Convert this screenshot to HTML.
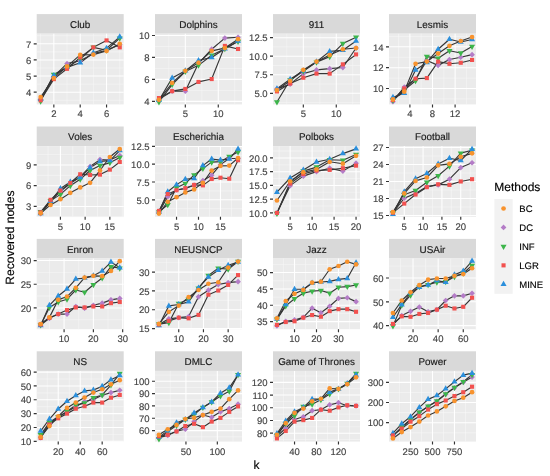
<!DOCTYPE html>
<html lang="en"><head><meta charset="utf-8"><title>Recovered nodes by k</title>
<style>html,body{margin:0;padding:0;background:#fff;}body{width:550px;height:476px;overflow:hidden;font-family:"Liberation Sans",Arial,sans-serif;}svg{display:block;filter:blur(0.35px);}text{text-rendering:geometricPrecision;stroke-width:0.15;}.a{stroke:#444444;stroke-width:0.3}.s{stroke:#1A1A1A}.k{stroke:#000}</style>
</head><body>
<svg width="550" height="476" viewBox="0 0 550 476" font-family="'Liberation Sans', Arial, Helvetica, sans-serif">
<rect width="550" height="476" fill="#ffffff"/>
<g>
<rect x="36.7" y="14.1" width="87" height="19.6" fill="#D9D9D9"/>
<rect x="36.7" y="33.7" width="87" height="70.7" fill="#EBEBEB"/>
<text class="s" x="80.2" y="27.7" font-size="9.9" fill="#1A1A1A" text-anchor="middle">Club</text>
<path d="M36.7 100.27H123.7M36.7 84.14H123.7M36.7 68H123.7M36.7 51.88H123.7M36.7 35.75H123.7M40.65 33.7V104.4M67.02 33.7V104.4M93.38 33.7V104.4M119.75 33.7V104.4" stroke="#F8F8F8" stroke-width="0.55" fill="none"/>
<path d="M36.7 92.2H123.7M36.7 76.07H123.7M36.7 59.94H123.7M36.7 43.81H123.7M53.84 33.7V104.4M80.2 33.7V104.4M106.56 33.7V104.4" stroke="#ffffff" stroke-width="1.05" fill="none"/>
<path d="M33.7 92.2H36.7M33.7 76.07H36.7M33.7 59.94H36.7M33.7 43.81H36.7M53.84 104.4V107.4M80.2 104.4V107.4M106.56 104.4V107.4" stroke="#333333" stroke-width="1.16" fill="none"/>
<g class="a" font-size="9.5" fill="#444444">
<g text-anchor="end">
<text x="31.3" y="95.9">4</text>
<text x="31.3" y="79.77">5</text>
<text x="31.3" y="63.64">6</text>
<text x="31.3" y="47.51">7</text>
</g><g text-anchor="middle">
<text x="53.84" y="117.3">2</text>
<text x="80.2" y="117.3">4</text>
<text x="106.56" y="117.3">6</text>
</g></g>
<g fill="none" stroke="#353535" stroke-width="1.15" stroke-linejoin="round"><polyline points="40.65,97.04 53.84,78.17 67.02,66.39 80.2,54.94 93.38,54.62 106.56,50.91 119.75,43.81"/><polyline points="40.65,99.14 53.84,76.39 67.02,63.65 80.2,60.75 93.38,53.65 106.56,50.26 119.75,44.62"/><polyline points="40.65,101.23 53.84,74.62 67.02,67.36 80.2,59.13 93.38,47.36 106.56,50.26 119.75,38.16"/><polyline points="40.65,100.27 53.84,79.13 67.02,68.81 80.2,57.36 93.38,47.36 106.56,40.42 119.75,47.36"/><polyline points="40.65,99.14 53.84,75.42 67.02,67.36 80.2,62.68 93.38,52.68 106.56,48.17 119.75,36.87"/></g>
<path d="M40.65 96.29L43.5 99.14L40.65 101.99L37.8 99.14Z" fill="#B47CC7"/><path d="M53.84 73.54L56.69 76.39L53.84 79.24L50.99 76.39Z" fill="#B47CC7"/><path d="M67.02 60.8L69.87 63.65L67.02 66.5L64.17 63.65Z" fill="#B47CC7"/><path d="M80.2 57.9L83.05 60.75L80.2 63.6L77.35 60.75Z" fill="#B47CC7"/><path d="M93.38 50.8L96.23 53.65L93.38 56.5L90.53 53.65Z" fill="#B47CC7"/><path d="M106.56 47.41L109.41 50.26L106.56 53.11L103.71 50.26Z" fill="#B47CC7"/><path d="M119.75 41.77L122.6 44.62L119.75 47.47L116.9 44.62Z" fill="#B47CC7"/>
<path d="M40.65 104.73L43.68 99.48L37.62 99.48Z" fill="#3CB54A"/><path d="M53.84 78.12L56.87 72.87L50.81 72.87Z" fill="#3CB54A"/><path d="M67.02 70.86L70.05 65.61L63.99 65.61Z" fill="#3CB54A"/><path d="M80.2 62.63L83.23 57.38L77.17 57.38Z" fill="#3CB54A"/><path d="M93.38 50.86L96.41 45.61L90.35 45.61Z" fill="#3CB54A"/><path d="M106.56 53.76L109.59 48.51L103.53 48.51Z" fill="#3CB54A"/><path d="M119.75 41.66L122.78 36.41L116.72 36.41Z" fill="#3CB54A"/>
<path d="M40.65 95.64L43.68 100.89L37.62 100.89Z" fill="#2B8FDC"/><path d="M53.84 71.92L56.87 77.17L50.81 77.17Z" fill="#2B8FDC"/><path d="M67.02 63.86L70.05 69.11L63.99 69.11Z" fill="#2B8FDC"/><path d="M80.2 59.18L83.23 64.43L77.17 64.43Z" fill="#2B8FDC"/><path d="M93.38 49.18L96.41 54.43L90.35 54.43Z" fill="#2B8FDC"/><path d="M106.56 44.67L109.59 49.92L103.53 49.92Z" fill="#2B8FDC"/><path d="M119.75 33.37L122.78 38.62L116.72 38.62Z" fill="#2B8FDC"/>
<rect x="38.6" y="98.22" width="4.1" height="4.1" fill="#F2514F"/><rect x="51.79" y="77.08" width="4.1" height="4.1" fill="#F2514F"/><rect x="64.97" y="66.76" width="4.1" height="4.1" fill="#F2514F"/><rect x="78.15" y="55.31" width="4.1" height="4.1" fill="#F2514F"/><rect x="91.33" y="45.31" width="4.1" height="4.1" fill="#F2514F"/><rect x="104.51" y="38.37" width="4.1" height="4.1" fill="#F2514F"/><rect x="117.7" y="45.31" width="4.1" height="4.1" fill="#F2514F"/>
<circle cx="40.65" cy="97.04" r="2.35" fill="#F8932E"/><circle cx="53.84" cy="78.17" r="2.35" fill="#F8932E"/><circle cx="67.02" cy="66.39" r="2.35" fill="#F8932E"/><circle cx="80.2" cy="54.94" r="2.35" fill="#F8932E"/><circle cx="93.38" cy="54.62" r="2.35" fill="#F8932E"/><circle cx="106.56" cy="50.91" r="2.35" fill="#F8932E"/><circle cx="119.75" cy="43.81" r="2.35" fill="#F8932E"/>
</g>
<g>
<rect x="155" y="14.1" width="87" height="19.6" fill="#D9D9D9"/>
<rect x="155" y="33.7" width="87" height="70.7" fill="#EBEBEB"/>
<text class="s" x="198.5" y="27.7" font-size="9.9" fill="#1A1A1A" text-anchor="middle">Dolphins</text>
<path d="M155 90.37H242M155 68.41H242M155 46.45H242M168.84 33.7V104.4M201.8 33.7V104.4M234.75 33.7V104.4" stroke="#F8F8F8" stroke-width="0.55" fill="none"/>
<path d="M155 101.35H242M155 79.39H242M155 57.43H242M155 35.47H242M185.32 33.7V104.4M218.27 33.7V104.4" stroke="#ffffff" stroke-width="1.05" fill="none"/>
<path d="M152 101.35H155M152 79.39H155M152 57.43H155M152 35.47H155M185.32 104.4V107.4M218.27 104.4V107.4" stroke="#333333" stroke-width="1.16" fill="none"/>
<g class="a" font-size="9.5" fill="#444444">
<g text-anchor="end">
<text x="149.6" y="105.05">4</text>
<text x="149.6" y="83.09">6</text>
<text x="149.6" y="61.13">8</text>
<text x="149.6" y="39.17">10</text>
</g><g text-anchor="middle">
<text x="185.32" y="117.3">5</text>
<text x="218.27" y="117.3">10</text>
</g></g>
<g fill="none" stroke="#353535" stroke-width="1.15" stroke-linejoin="round"><polyline points="158.95,99.81 172.14,83.01 185.32,70.83 198.5,62.7 211.68,50.84 224.86,48.1 238.05,39.2"/><polyline points="158.95,99.37 172.14,91.14 185.32,91.14 198.5,63.36 211.68,49.19 224.86,38.11 238.05,37.23"/><polyline points="158.95,102.01 172.14,84.55 185.32,71.48 198.5,65.34 211.68,55.23 224.86,48.65 238.05,41.4"/><polyline points="158.95,98.06 172.14,91.14 185.32,88.94 198.5,81.92 211.68,79.06 224.86,45.9 238.05,48.98"/><polyline points="158.95,100.25 172.14,77.96 185.32,70.83 198.5,60.5 211.68,57.43 224.86,48.65 238.05,40.96"/></g>
<path d="M158.95 96.52L161.8 99.37L158.95 102.22L156.1 99.37Z" fill="#B47CC7"/><path d="M172.14 88.29L174.99 91.14L172.14 93.99L169.29 91.14Z" fill="#B47CC7"/><path d="M185.32 88.29L188.17 91.14L185.32 93.99L182.47 91.14Z" fill="#B47CC7"/><path d="M198.5 60.51L201.35 63.36L198.5 66.21L195.65 63.36Z" fill="#B47CC7"/><path d="M211.68 46.34L214.53 49.19L211.68 52.04L208.83 49.19Z" fill="#B47CC7"/><path d="M224.86 35.26L227.71 38.11L224.86 40.96L222.01 38.11Z" fill="#B47CC7"/><path d="M238.05 34.38L240.9 37.23L238.05 40.08L235.2 37.23Z" fill="#B47CC7"/>
<path d="M158.95 105.51L161.98 100.26L155.92 100.26Z" fill="#3CB54A"/><path d="M172.14 88.05L175.17 82.8L169.11 82.8Z" fill="#3CB54A"/><path d="M185.32 74.98L188.35 69.73L182.29 69.73Z" fill="#3CB54A"/><path d="M198.5 68.84L201.53 63.59L195.47 63.59Z" fill="#3CB54A"/><path d="M211.68 58.73L214.71 53.48L208.65 53.48Z" fill="#3CB54A"/><path d="M224.86 52.15L227.89 46.9L221.83 46.9Z" fill="#3CB54A"/><path d="M238.05 44.9L241.08 39.65L235.02 39.65Z" fill="#3CB54A"/>
<path d="M158.95 96.75L161.98 102L155.92 102Z" fill="#2B8FDC"/><path d="M172.14 74.46L175.17 79.71L169.11 79.71Z" fill="#2B8FDC"/><path d="M185.32 67.33L188.35 72.58L182.29 72.58Z" fill="#2B8FDC"/><path d="M198.5 57L201.53 62.25L195.47 62.25Z" fill="#2B8FDC"/><path d="M211.68 53.93L214.71 59.18L208.65 59.18Z" fill="#2B8FDC"/><path d="M224.86 45.15L227.89 50.4L221.83 50.4Z" fill="#2B8FDC"/><path d="M238.05 37.46L241.08 42.71L235.02 42.71Z" fill="#2B8FDC"/>
<rect x="156.9" y="96.01" width="4.1" height="4.1" fill="#F2514F"/><rect x="170.09" y="89.09" width="4.1" height="4.1" fill="#F2514F"/><rect x="183.27" y="86.89" width="4.1" height="4.1" fill="#F2514F"/><rect x="196.45" y="79.87" width="4.1" height="4.1" fill="#F2514F"/><rect x="209.63" y="77.01" width="4.1" height="4.1" fill="#F2514F"/><rect x="222.81" y="43.85" width="4.1" height="4.1" fill="#F2514F"/><rect x="236" y="46.93" width="4.1" height="4.1" fill="#F2514F"/>
<circle cx="158.95" cy="99.81" r="2.35" fill="#F8932E"/><circle cx="172.14" cy="83.01" r="2.35" fill="#F8932E"/><circle cx="185.32" cy="70.83" r="2.35" fill="#F8932E"/><circle cx="198.5" cy="62.7" r="2.35" fill="#F8932E"/><circle cx="211.68" cy="50.84" r="2.35" fill="#F8932E"/><circle cx="224.86" cy="48.1" r="2.35" fill="#F8932E"/><circle cx="238.05" cy="39.2" r="2.35" fill="#F8932E"/>
</g>
<g>
<rect x="273" y="14.1" width="87" height="19.6" fill="#D9D9D9"/>
<rect x="273" y="33.7" width="87" height="70.7" fill="#EBEBEB"/>
<text class="s" x="316.5" y="27.7" font-size="9.9" fill="#1A1A1A" text-anchor="middle">911</text>
<path d="M273 102.58H360M273 84.02H360M273 65.47H360M273 46.92H360M286.84 33.7V104.4M319.8 33.7V104.4M352.75 33.7V104.4" stroke="#F8F8F8" stroke-width="0.55" fill="none"/>
<path d="M273 93.3H360M273 74.75H360M273 56.2H360M273 37.65H360M303.32 33.7V104.4M336.27 33.7V104.4" stroke="#ffffff" stroke-width="1.05" fill="none"/>
<path d="M270 93.3H273M270 74.75H273M270 56.2H273M270 37.65H273M303.32 104.4V107.4M336.27 104.4V107.4" stroke="#333333" stroke-width="1.16" fill="none"/>
<g class="a" font-size="9.5" fill="#444444">
<g text-anchor="end">
<text x="267.6" y="97">5.0</text>
<text x="267.6" y="78.45">7.5</text>
<text x="267.6" y="59.9">10.0</text>
<text x="267.6" y="41.35">12.5</text>
</g><g text-anchor="middle">
<text x="303.32" y="117.3">5</text>
<text x="336.27" y="117.3">10</text>
</g></g>
<g fill="none" stroke="#353535" stroke-width="1.15" stroke-linejoin="round"><polyline points="276.95,90.04 290.14,80.83 303.32,69.93 316.5,61.69 329.68,55.09 342.86,49.23 356.05,48.04"/><polyline points="276.95,88.85 290.14,84.17 303.32,73.64 316.5,69.93 329.68,68.67 342.86,67.55 356.05,48.04"/><polyline points="276.95,102.06 290.14,79.94 303.32,71.19 316.5,62.14 329.68,56.65 342.86,43.59 356.05,37.2"/><polyline points="276.95,91.44 290.14,83.51 303.32,77.72 316.5,73.64 329.68,73.64 342.86,64.36 356.05,54.42"/><polyline points="276.95,88.7 290.14,79.2 303.32,70.82 316.5,61.69 329.68,51.38 342.86,50.26 356.05,40.91"/></g>
<path d="M276.95 86L279.8 88.85L276.95 91.7L274.1 88.85Z" fill="#B47CC7"/><path d="M290.14 81.32L292.99 84.17L290.14 87.02L287.29 84.17Z" fill="#B47CC7"/><path d="M303.32 70.79L306.17 73.64L303.32 76.49L300.47 73.64Z" fill="#B47CC7"/><path d="M316.5 67.08L319.35 69.93L316.5 72.78L313.65 69.93Z" fill="#B47CC7"/><path d="M329.68 65.82L332.53 68.67L329.68 71.52L326.83 68.67Z" fill="#B47CC7"/><path d="M342.86 64.7L345.71 67.55L342.86 70.4L340.01 67.55Z" fill="#B47CC7"/><path d="M356.05 45.19L358.9 48.04L356.05 50.89L353.2 48.04Z" fill="#B47CC7"/>
<path d="M276.95 105.56L279.98 100.31L273.92 100.31Z" fill="#3CB54A"/><path d="M290.14 83.44L293.17 78.19L287.11 78.19Z" fill="#3CB54A"/><path d="M303.32 74.69L306.35 69.44L300.29 69.44Z" fill="#3CB54A"/><path d="M316.5 65.64L319.53 60.39L313.47 60.39Z" fill="#3CB54A"/><path d="M329.68 60.15L332.71 54.9L326.65 54.9Z" fill="#3CB54A"/><path d="M342.86 47.09L345.89 41.84L339.83 41.84Z" fill="#3CB54A"/><path d="M356.05 40.7L359.08 35.45L353.02 35.45Z" fill="#3CB54A"/>
<path d="M276.95 85.2L279.98 90.45L273.92 90.45Z" fill="#2B8FDC"/><path d="M290.14 75.7L293.17 80.95L287.11 80.95Z" fill="#2B8FDC"/><path d="M303.32 67.32L306.35 72.57L300.29 72.57Z" fill="#2B8FDC"/><path d="M316.5 58.19L319.53 63.44L313.47 63.44Z" fill="#2B8FDC"/><path d="M329.68 47.88L332.71 53.13L326.65 53.13Z" fill="#2B8FDC"/><path d="M342.86 46.76L345.89 52.01L339.83 52.01Z" fill="#2B8FDC"/><path d="M356.05 37.41L359.08 42.66L353.02 42.66Z" fill="#2B8FDC"/>
<rect x="274.9" y="89.39" width="4.1" height="4.1" fill="#F2514F"/><rect x="288.09" y="81.46" width="4.1" height="4.1" fill="#F2514F"/><rect x="301.27" y="75.67" width="4.1" height="4.1" fill="#F2514F"/><rect x="314.45" y="71.59" width="4.1" height="4.1" fill="#F2514F"/><rect x="327.63" y="71.59" width="4.1" height="4.1" fill="#F2514F"/><rect x="340.81" y="62.31" width="4.1" height="4.1" fill="#F2514F"/><rect x="354" y="52.37" width="4.1" height="4.1" fill="#F2514F"/>
<circle cx="276.95" cy="90.04" r="2.35" fill="#F8932E"/><circle cx="290.14" cy="80.83" r="2.35" fill="#F8932E"/><circle cx="303.32" cy="69.93" r="2.35" fill="#F8932E"/><circle cx="316.5" cy="61.69" r="2.35" fill="#F8932E"/><circle cx="329.68" cy="55.09" r="2.35" fill="#F8932E"/><circle cx="342.86" cy="49.23" r="2.35" fill="#F8932E"/><circle cx="356.05" cy="48.04" r="2.35" fill="#F8932E"/>
</g>
<g>
<rect x="389" y="14.1" width="87" height="19.6" fill="#D9D9D9"/>
<rect x="389" y="33.7" width="87" height="70.7" fill="#EBEBEB"/>
<text class="s" x="432.5" y="27.7" font-size="9.9" fill="#1A1A1A" text-anchor="middle">Lesmis</text>
<path d="M389 98.92H476M389 78.08H476M389 57.24H476M389 36.4H476M398.6 33.7V104.4M421.2 33.7V104.4M443.8 33.7V104.4M466.4 33.7V104.4" stroke="#F8F8F8" stroke-width="0.55" fill="none"/>
<path d="M389 88.5H476M389 67.66H476M389 46.82H476M409.9 33.7V104.4M432.5 33.7V104.4M455.1 33.7V104.4" stroke="#ffffff" stroke-width="1.05" fill="none"/>
<path d="M386 88.5H389M386 67.66H389M386 46.82H389M409.9 104.4V107.4M432.5 104.4V107.4M455.1 104.4V107.4" stroke="#333333" stroke-width="1.16" fill="none"/>
<g class="a" font-size="9.5" fill="#444444">
<g text-anchor="end">
<text x="383.6" y="92.2">10</text>
<text x="383.6" y="71.36">12</text>
<text x="383.6" y="50.52">14</text>
</g><g text-anchor="middle">
<text x="409.9" y="117.3">4</text>
<text x="432.5" y="117.3">8</text>
<text x="455.1" y="117.3">12</text>
</g></g>
<g fill="none" stroke="#353535" stroke-width="1.15" stroke-linejoin="round"><polyline points="392.95,99.44 404.25,91.63 415.55,63.8 426.85,61.62 438.15,53.59 449.45,45.78 460.75,40.98 472.05,37.03"/><polyline points="392.95,101.63 404.25,87.15 415.55,79.12 426.85,60.57 438.15,65.37 449.45,59.53 460.75,57.24 472.05,54.63"/><polyline points="392.95,100.27 404.25,90.06 415.55,80.69 426.85,56.61 438.15,58.28 449.45,50.78 460.75,52.97 472.05,46.4"/><polyline points="392.95,99.96 404.25,88.5 415.55,78.71 426.85,78.08 438.15,61.62 449.45,63.8 460.75,62.76 472.05,59.95"/><polyline points="392.95,97.25 404.25,93.29 415.55,69.95 426.85,62.45 438.15,49.22 449.45,39.21 460.75,42.03 472.05,39.53"/></g>
<path d="M392.95 98.78L395.8 101.63L392.95 104.48L390.1 101.63Z" fill="#B47CC7"/><path d="M404.25 84.3L407.1 87.15L404.25 90L401.4 87.15Z" fill="#B47CC7"/><path d="M415.55 76.27L418.4 79.12L415.55 81.97L412.7 79.12Z" fill="#B47CC7"/><path d="M426.85 57.72L429.7 60.57L426.85 63.42L424 60.57Z" fill="#B47CC7"/><path d="M438.15 62.52L441 65.37L438.15 68.22L435.3 65.37Z" fill="#B47CC7"/><path d="M449.45 56.68L452.3 59.53L449.45 62.38L446.6 59.53Z" fill="#B47CC7"/><path d="M460.75 54.39L463.6 57.24L460.75 60.09L457.9 57.24Z" fill="#B47CC7"/><path d="M472.05 51.78L474.9 54.63L472.05 57.48L469.2 54.63Z" fill="#B47CC7"/>
<path d="M392.95 103.77L395.98 98.52L389.92 98.52Z" fill="#3CB54A"/><path d="M404.25 93.56L407.28 88.31L401.22 88.31Z" fill="#3CB54A"/><path d="M415.55 84.19L418.58 78.94L412.52 78.94Z" fill="#3CB54A"/><path d="M426.85 60.11L429.88 54.86L423.82 54.86Z" fill="#3CB54A"/><path d="M438.15 61.78L441.18 56.53L435.12 56.53Z" fill="#3CB54A"/><path d="M449.45 54.28L452.48 49.03L446.42 49.03Z" fill="#3CB54A"/><path d="M460.75 56.47L463.78 51.22L457.72 51.22Z" fill="#3CB54A"/><path d="M472.05 49.9L475.08 44.65L469.02 44.65Z" fill="#3CB54A"/>
<path d="M392.95 93.75L395.98 99L389.92 99Z" fill="#2B8FDC"/><path d="M404.25 89.79L407.28 95.04L401.22 95.04Z" fill="#2B8FDC"/><path d="M415.55 66.45L418.58 71.7L412.52 71.7Z" fill="#2B8FDC"/><path d="M426.85 58.95L429.88 64.2L423.82 64.2Z" fill="#2B8FDC"/><path d="M438.15 45.72L441.18 50.97L435.12 50.97Z" fill="#2B8FDC"/><path d="M449.45 35.71L452.48 40.96L446.42 40.96Z" fill="#2B8FDC"/><path d="M460.75 38.53L463.78 43.78L457.72 43.78Z" fill="#2B8FDC"/><path d="M472.05 36.03L475.08 41.28L469.02 41.28Z" fill="#2B8FDC"/>
<rect x="390.9" y="97.91" width="4.1" height="4.1" fill="#F2514F"/><rect x="402.2" y="86.45" width="4.1" height="4.1" fill="#F2514F"/><rect x="413.5" y="76.66" width="4.1" height="4.1" fill="#F2514F"/><rect x="424.8" y="76.03" width="4.1" height="4.1" fill="#F2514F"/><rect x="436.1" y="59.57" width="4.1" height="4.1" fill="#F2514F"/><rect x="447.4" y="61.75" width="4.1" height="4.1" fill="#F2514F"/><rect x="458.7" y="60.71" width="4.1" height="4.1" fill="#F2514F"/><rect x="470" y="57.9" width="4.1" height="4.1" fill="#F2514F"/>
<circle cx="392.95" cy="99.44" r="2.35" fill="#F8932E"/><circle cx="404.25" cy="91.63" r="2.35" fill="#F8932E"/><circle cx="415.55" cy="63.8" r="2.35" fill="#F8932E"/><circle cx="426.85" cy="61.62" r="2.35" fill="#F8932E"/><circle cx="438.15" cy="53.59" r="2.35" fill="#F8932E"/><circle cx="449.45" cy="45.78" r="2.35" fill="#F8932E"/><circle cx="460.75" cy="40.98" r="2.35" fill="#F8932E"/><circle cx="472.05" cy="37.03" r="2.35" fill="#F8932E"/>
</g>
<g>
<rect x="36.7" y="126.5" width="87" height="19.6" fill="#D9D9D9"/>
<rect x="36.7" y="146.1" width="87" height="70.7" fill="#EBEBEB"/>
<text class="s" x="80.2" y="140.1" font-size="9.9" fill="#1A1A1A" text-anchor="middle">Voles</text>
<path d="M36.7 216.77H123.7M36.7 196.03H123.7M36.7 175.31H123.7M36.7 154.57H123.7M48.07 146.1V216.8M72.79 146.1V216.8M97.5 146.1V216.8M122.22 146.1V216.8" stroke="#F8F8F8" stroke-width="0.55" fill="none"/>
<path d="M36.7 206.4H123.7M36.7 185.67H123.7M36.7 164.94H123.7M60.43 146.1V216.8M85.14 146.1V216.8M109.86 146.1V216.8" stroke="#ffffff" stroke-width="1.05" fill="none"/>
<path d="M33.7 206.4H36.7M33.7 185.67H36.7M33.7 164.94H36.7M60.43 216.8V219.8M85.14 216.8V219.8M109.86 216.8V219.8" stroke="#333333" stroke-width="1.16" fill="none"/>
<g class="a" font-size="9.5" fill="#444444">
<g text-anchor="end">
<text x="31.3" y="210.1">3</text>
<text x="31.3" y="189.37">6</text>
<text x="31.3" y="168.64">9</text>
</g><g text-anchor="middle">
<text x="60.43" y="229.7">5</text>
<text x="85.14" y="229.7">10</text>
<text x="109.86" y="229.7">15</text>
</g></g>
<g fill="none" stroke="#353535" stroke-width="1.15" stroke-linejoin="round"><polyline points="40.65,213.31 50.54,204.88 60.43,199.21 70.31,192.86 80.2,187.4 90.09,182.84 99.97,170.47 109.86,156.99 119.75,149.05"/><polyline points="40.65,213.59 50.54,201.36 60.43,191.2 70.31,183.6 80.2,176.69 90.09,166.53 99.97,159.62 109.86,160.1 119.75,155.54"/><polyline points="40.65,211.86 50.54,200.87 60.43,194.38 70.31,185.67 80.2,179.24 90.09,170.47 99.97,165.56 109.86,162.87 119.75,157.48"/><polyline points="40.65,212.27 50.54,199.84 60.43,190.51 70.31,183.04 80.2,174.27 90.09,174.96 99.97,174.61 109.86,169.64 119.75,161.97"/><polyline points="40.65,213.59 50.54,201.36 60.43,188.5 70.31,181.94 80.2,177.45 90.09,167.84 99.97,161.55 109.86,160.59 119.75,150.57"/></g>
<path d="M40.65 210.74L43.5 213.59L40.65 216.44L37.8 213.59Z" fill="#B47CC7"/><path d="M50.54 198.51L53.39 201.36L50.54 204.21L47.69 201.36Z" fill="#B47CC7"/><path d="M60.43 188.35L63.28 191.2L60.43 194.05L57.58 191.2Z" fill="#B47CC7"/><path d="M70.31 180.75L73.16 183.6L70.31 186.45L67.46 183.6Z" fill="#B47CC7"/><path d="M80.2 173.84L83.05 176.69L80.2 179.54L77.35 176.69Z" fill="#B47CC7"/><path d="M90.09 163.68L92.94 166.53L90.09 169.38L87.24 166.53Z" fill="#B47CC7"/><path d="M99.97 156.77L102.82 159.62L99.97 162.47L97.12 159.62Z" fill="#B47CC7"/><path d="M109.86 157.25L112.71 160.1L109.86 162.95L107.01 160.1Z" fill="#B47CC7"/><path d="M119.75 152.69L122.6 155.54L119.75 158.39L116.9 155.54Z" fill="#B47CC7"/>
<path d="M40.65 215.36L43.68 210.11L37.62 210.11Z" fill="#3CB54A"/><path d="M50.54 204.37L53.57 199.12L47.51 199.12Z" fill="#3CB54A"/><path d="M60.43 197.88L63.46 192.63L57.4 192.63Z" fill="#3CB54A"/><path d="M70.31 189.17L73.34 183.92L67.28 183.92Z" fill="#3CB54A"/><path d="M80.2 182.74L83.23 177.49L77.17 177.49Z" fill="#3CB54A"/><path d="M90.09 173.97L93.12 168.72L87.06 168.72Z" fill="#3CB54A"/><path d="M99.97 169.06L103 163.81L96.94 163.81Z" fill="#3CB54A"/><path d="M109.86 166.37L112.89 161.12L106.83 161.12Z" fill="#3CB54A"/><path d="M119.75 160.98L122.78 155.73L116.72 155.73Z" fill="#3CB54A"/>
<path d="M40.65 210.09L43.68 215.34L37.62 215.34Z" fill="#2B8FDC"/><path d="M50.54 197.86L53.57 203.11L47.51 203.11Z" fill="#2B8FDC"/><path d="M60.43 185L63.46 190.25L57.4 190.25Z" fill="#2B8FDC"/><path d="M70.31 178.44L73.34 183.69L67.28 183.69Z" fill="#2B8FDC"/><path d="M80.2 173.95L83.23 179.2L77.17 179.2Z" fill="#2B8FDC"/><path d="M90.09 164.34L93.12 169.59L87.06 169.59Z" fill="#2B8FDC"/><path d="M99.97 158.05L103 163.3L96.94 163.3Z" fill="#2B8FDC"/><path d="M109.86 157.09L112.89 162.34L106.83 162.34Z" fill="#2B8FDC"/><path d="M119.75 147.07L122.78 152.32L116.72 152.32Z" fill="#2B8FDC"/>
<rect x="38.6" y="210.22" width="4.1" height="4.1" fill="#F2514F"/><rect x="48.49" y="197.79" width="4.1" height="4.1" fill="#F2514F"/><rect x="58.38" y="188.46" width="4.1" height="4.1" fill="#F2514F"/><rect x="68.26" y="180.99" width="4.1" height="4.1" fill="#F2514F"/><rect x="78.15" y="172.22" width="4.1" height="4.1" fill="#F2514F"/><rect x="88.04" y="172.91" width="4.1" height="4.1" fill="#F2514F"/><rect x="97.92" y="172.56" width="4.1" height="4.1" fill="#F2514F"/><rect x="107.81" y="167.59" width="4.1" height="4.1" fill="#F2514F"/><rect x="117.7" y="159.92" width="4.1" height="4.1" fill="#F2514F"/>
<circle cx="40.65" cy="213.31" r="2.35" fill="#F8932E"/><circle cx="50.54" cy="204.88" r="2.35" fill="#F8932E"/><circle cx="60.43" cy="199.21" r="2.35" fill="#F8932E"/><circle cx="70.31" cy="192.86" r="2.35" fill="#F8932E"/><circle cx="80.2" cy="187.4" r="2.35" fill="#F8932E"/><circle cx="90.09" cy="182.84" r="2.35" fill="#F8932E"/><circle cx="99.97" cy="170.47" r="2.35" fill="#F8932E"/><circle cx="109.86" cy="156.99" r="2.35" fill="#F8932E"/><circle cx="119.75" cy="149.05" r="2.35" fill="#F8932E"/>
</g>
<g>
<rect x="155" y="126.5" width="87" height="19.6" fill="#D9D9D9"/>
<rect x="155" y="146.1" width="87" height="70.7" fill="#EBEBEB"/>
<text class="s" x="198.5" y="140.1" font-size="9.9" fill="#1A1A1A" text-anchor="middle">Escherichia</text>
<path d="M155 208.7H242M155 190.9H242M155 173.1H242M155 155.3H242M165.55 146.1V216.8M187.52 146.1V216.8M209.48 146.1V216.8M231.45 146.1V216.8" stroke="#F8F8F8" stroke-width="0.55" fill="none"/>
<path d="M155 199.8H242M155 182H242M155 164.2H242M155 146.4H242M176.53 146.1V216.8M198.5 146.1V216.8M220.47 146.1V216.8" stroke="#ffffff" stroke-width="1.05" fill="none"/>
<path d="M152 199.8H155M152 182H155M152 164.2H155M152 146.4H155M176.53 216.8V219.8M198.5 216.8V219.8M220.47 216.8V219.8" stroke="#333333" stroke-width="1.16" fill="none"/>
<g class="a" font-size="9.5" fill="#444444">
<g text-anchor="end">
<text x="149.6" y="203.5">5.0</text>
<text x="149.6" y="185.7">7.5</text>
<text x="149.6" y="167.9">10.0</text>
<text x="149.6" y="150.1">12.5</text>
</g><g text-anchor="middle">
<text x="176.53" y="229.7">5</text>
<text x="198.5" y="229.7">10</text>
<text x="220.47" y="229.7">15</text>
</g></g>
<g fill="none" stroke="#353535" stroke-width="1.15" stroke-linejoin="round"><polyline points="158.95,213.61 167.74,201.79 176.53,197.17 185.32,192.4 194.11,189.4 202.89,182.78 211.68,170.61 220.47,165.91 229.26,165.62 238.05,158.01"/><polyline points="158.95,212.26 167.74,196.67 176.53,189.97 185.32,188.41 194.11,185.2 202.89,180.72 211.68,175.24 220.47,164.63 229.26,158.5 238.05,158.5"/><polyline points="158.95,211.9 167.74,204.78 176.53,187.7 185.32,183.57 194.11,174.88 202.89,168.61 211.68,162.14 220.47,161.64 229.26,156.51 238.05,152.02"/><polyline points="158.95,210.91 167.74,194.03 176.53,190.19 185.32,188.19 194.11,184.92 202.89,185.35 211.68,179.01 220.47,177.73 229.26,178.72 238.05,160.21"/><polyline points="158.95,211.9 167.74,191.68 176.53,184.63 185.32,179.29 194.11,178.44 202.89,165.62 211.68,159.07 220.47,160.07 229.26,159.07 238.05,148.89"/></g>
<path d="M158.95 209.41L161.8 212.26L158.95 215.11L156.1 212.26Z" fill="#B47CC7"/><path d="M167.74 193.82L170.59 196.67L167.74 199.52L164.89 196.67Z" fill="#B47CC7"/><path d="M176.53 187.12L179.38 189.97L176.53 192.82L173.68 189.97Z" fill="#B47CC7"/><path d="M185.32 185.56L188.17 188.41L185.32 191.26L182.47 188.41Z" fill="#B47CC7"/><path d="M194.11 182.35L196.96 185.2L194.11 188.05L191.26 185.2Z" fill="#B47CC7"/><path d="M202.89 177.87L205.74 180.72L202.89 183.57L200.04 180.72Z" fill="#B47CC7"/><path d="M211.68 172.39L214.53 175.24L211.68 178.09L208.83 175.24Z" fill="#B47CC7"/><path d="M220.47 161.78L223.32 164.63L220.47 167.48L217.62 164.63Z" fill="#B47CC7"/><path d="M229.26 155.65L232.11 158.5L229.26 161.35L226.41 158.5Z" fill="#B47CC7"/><path d="M238.05 155.65L240.9 158.5L238.05 161.35L235.2 158.5Z" fill="#B47CC7"/>
<path d="M158.95 215.4L161.98 210.15L155.92 210.15Z" fill="#3CB54A"/><path d="M167.74 208.28L170.77 203.03L164.71 203.03Z" fill="#3CB54A"/><path d="M176.53 191.2L179.56 185.95L173.5 185.95Z" fill="#3CB54A"/><path d="M185.32 187.07L188.35 181.82L182.29 181.82Z" fill="#3CB54A"/><path d="M194.11 178.38L197.14 173.13L191.08 173.13Z" fill="#3CB54A"/><path d="M202.89 172.11L205.92 166.86L199.86 166.86Z" fill="#3CB54A"/><path d="M211.68 165.64L214.71 160.39L208.65 160.39Z" fill="#3CB54A"/><path d="M220.47 165.14L223.5 159.89L217.44 159.89Z" fill="#3CB54A"/><path d="M229.26 160.01L232.29 154.76L226.23 154.76Z" fill="#3CB54A"/><path d="M238.05 155.52L241.08 150.27L235.02 150.27Z" fill="#3CB54A"/>
<path d="M158.95 208.4L161.98 213.65L155.92 213.65Z" fill="#2B8FDC"/><path d="M167.74 188.18L170.77 193.43L164.71 193.43Z" fill="#2B8FDC"/><path d="M176.53 181.13L179.56 186.38L173.5 186.38Z" fill="#2B8FDC"/><path d="M185.32 175.79L188.35 181.04L182.29 181.04Z" fill="#2B8FDC"/><path d="M194.11 174.94L197.14 180.19L191.08 180.19Z" fill="#2B8FDC"/><path d="M202.89 162.12L205.92 167.37L199.86 167.37Z" fill="#2B8FDC"/><path d="M211.68 155.57L214.71 160.82L208.65 160.82Z" fill="#2B8FDC"/><path d="M220.47 156.57L223.5 161.82L217.44 161.82Z" fill="#2B8FDC"/><path d="M229.26 155.57L232.29 160.82L226.23 160.82Z" fill="#2B8FDC"/><path d="M238.05 145.39L241.08 150.64L235.02 150.64Z" fill="#2B8FDC"/>
<rect x="156.9" y="208.86" width="4.1" height="4.1" fill="#F2514F"/><rect x="165.69" y="191.98" width="4.1" height="4.1" fill="#F2514F"/><rect x="174.48" y="188.14" width="4.1" height="4.1" fill="#F2514F"/><rect x="183.27" y="186.14" width="4.1" height="4.1" fill="#F2514F"/><rect x="192.06" y="182.87" width="4.1" height="4.1" fill="#F2514F"/><rect x="200.84" y="183.3" width="4.1" height="4.1" fill="#F2514F"/><rect x="209.63" y="176.96" width="4.1" height="4.1" fill="#F2514F"/><rect x="218.42" y="175.68" width="4.1" height="4.1" fill="#F2514F"/><rect x="227.21" y="176.67" width="4.1" height="4.1" fill="#F2514F"/><rect x="236" y="158.16" width="4.1" height="4.1" fill="#F2514F"/>
<circle cx="158.95" cy="213.61" r="2.35" fill="#F8932E"/><circle cx="167.74" cy="201.79" r="2.35" fill="#F8932E"/><circle cx="176.53" cy="197.17" r="2.35" fill="#F8932E"/><circle cx="185.32" cy="192.4" r="2.35" fill="#F8932E"/><circle cx="194.11" cy="189.4" r="2.35" fill="#F8932E"/><circle cx="202.89" cy="182.78" r="2.35" fill="#F8932E"/><circle cx="211.68" cy="170.61" r="2.35" fill="#F8932E"/><circle cx="220.47" cy="165.91" r="2.35" fill="#F8932E"/><circle cx="229.26" cy="165.62" r="2.35" fill="#F8932E"/><circle cx="238.05" cy="158.01" r="2.35" fill="#F8932E"/>
</g>
<g>
<rect x="273" y="126.5" width="87" height="19.6" fill="#D9D9D9"/>
<rect x="273" y="146.1" width="87" height="70.7" fill="#EBEBEB"/>
<text class="s" x="316.5" y="140.1" font-size="9.9" fill="#1A1A1A" text-anchor="middle">Polboks</text>
<path d="M273 206.03H360M273 192.29H360M273 178.54H360M273 164.8H360M273 151.06H360M279.15 146.1V216.8M301.12 146.1V216.8M323.09 146.1V216.8M345.06 146.1V216.8" stroke="#F8F8F8" stroke-width="0.55" fill="none"/>
<path d="M273 212.9H360M273 199.16H360M273 185.42H360M273 171.67H360M273 157.93H360M290.14 146.1V216.8M312.11 146.1V216.8M334.08 146.1V216.8M356.05 146.1V216.8" stroke="#ffffff" stroke-width="1.05" fill="none"/>
<path d="M270 212.9H273M270 199.16H273M270 185.42H273M270 171.67H273M270 157.93H273M290.14 216.8V219.8M312.11 216.8V219.8M334.08 216.8V219.8M356.05 216.8V219.8" stroke="#333333" stroke-width="1.16" fill="none"/>
<g class="a" font-size="9.5" fill="#444444">
<g text-anchor="end">
<text x="267.6" y="216.6">10.0</text>
<text x="267.6" y="202.86">12.5</text>
<text x="267.6" y="189.12">15.0</text>
<text x="267.6" y="175.37">17.5</text>
<text x="267.6" y="161.63">20.0</text>
</g><g text-anchor="middle">
<text x="290.14" y="229.7">5</text>
<text x="312.11" y="229.7">10</text>
<text x="334.08" y="229.7">15</text>
<text x="356.05" y="229.7">20</text>
</g></g>
<g fill="none" stroke="#353535" stroke-width="1.15" stroke-linejoin="round"><polyline points="276.95,200.48 290.14,181.24 303.32,172.22 316.5,169.42 329.68,161.78 342.86,163.7 356.05,155.79"/><polyline points="276.95,212.9 290.14,185.63 303.32,176.13 316.5,171.62 329.68,168.21 342.86,171.12 356.05,163.21"/><polyline points="276.95,213.45 290.14,182.39 303.32,171.12 316.5,167.11 329.68,159.8 342.86,160.29 356.05,154.41"/><polyline points="276.95,212.9 290.14,183.44 303.32,173.93 316.5,170.52 329.68,169.91 342.86,168.21 356.05,165.63"/><polyline points="276.95,192.18 290.14,177.99 303.32,169.91 316.5,162 329.68,159.19 342.86,153.59 356.05,148.86"/></g>
<path d="M276.95 210.05L279.8 212.9L276.95 215.75L274.1 212.9Z" fill="#B47CC7"/><path d="M290.14 182.78L292.99 185.63L290.14 188.48L287.29 185.63Z" fill="#B47CC7"/><path d="M303.32 173.28L306.17 176.13L303.32 178.98L300.47 176.13Z" fill="#B47CC7"/><path d="M316.5 168.77L319.35 171.62L316.5 174.47L313.65 171.62Z" fill="#B47CC7"/><path d="M329.68 165.36L332.53 168.21L329.68 171.06L326.83 168.21Z" fill="#B47CC7"/><path d="M342.86 168.27L345.71 171.12L342.86 173.97L340.01 171.12Z" fill="#B47CC7"/><path d="M356.05 160.36L358.9 163.21L356.05 166.06L353.2 163.21Z" fill="#B47CC7"/>
<path d="M276.95 216.95L279.98 211.7L273.92 211.7Z" fill="#3CB54A"/><path d="M290.14 185.89L293.17 180.64L287.11 180.64Z" fill="#3CB54A"/><path d="M303.32 174.62L306.35 169.37L300.29 169.37Z" fill="#3CB54A"/><path d="M316.5 170.61L319.53 165.36L313.47 165.36Z" fill="#3CB54A"/><path d="M329.68 163.3L332.71 158.05L326.65 158.05Z" fill="#3CB54A"/><path d="M342.86 163.79L345.89 158.54L339.83 158.54Z" fill="#3CB54A"/><path d="M356.05 157.91L359.08 152.66L353.02 152.66Z" fill="#3CB54A"/>
<path d="M276.95 188.68L279.98 193.93L273.92 193.93Z" fill="#2B8FDC"/><path d="M290.14 174.49L293.17 179.74L287.11 179.74Z" fill="#2B8FDC"/><path d="M303.32 166.41L306.35 171.66L300.29 171.66Z" fill="#2B8FDC"/><path d="M316.5 158.5L319.53 163.75L313.47 163.75Z" fill="#2B8FDC"/><path d="M329.68 155.69L332.71 160.94L326.65 160.94Z" fill="#2B8FDC"/><path d="M342.86 150.09L345.89 155.34L339.83 155.34Z" fill="#2B8FDC"/><path d="M356.05 145.36L359.08 150.61L353.02 150.61Z" fill="#2B8FDC"/>
<rect x="274.9" y="210.85" width="4.1" height="4.1" fill="#F2514F"/><rect x="288.09" y="181.39" width="4.1" height="4.1" fill="#F2514F"/><rect x="301.27" y="171.88" width="4.1" height="4.1" fill="#F2514F"/><rect x="314.45" y="168.47" width="4.1" height="4.1" fill="#F2514F"/><rect x="327.63" y="167.86" width="4.1" height="4.1" fill="#F2514F"/><rect x="340.81" y="166.16" width="4.1" height="4.1" fill="#F2514F"/><rect x="354" y="163.58" width="4.1" height="4.1" fill="#F2514F"/>
<circle cx="276.95" cy="200.48" r="2.35" fill="#F8932E"/><circle cx="290.14" cy="181.24" r="2.35" fill="#F8932E"/><circle cx="303.32" cy="172.22" r="2.35" fill="#F8932E"/><circle cx="316.5" cy="169.42" r="2.35" fill="#F8932E"/><circle cx="329.68" cy="161.78" r="2.35" fill="#F8932E"/><circle cx="342.86" cy="163.7" r="2.35" fill="#F8932E"/><circle cx="356.05" cy="155.79" r="2.35" fill="#F8932E"/>
</g>
<g>
<rect x="389" y="126.5" width="87" height="19.6" fill="#D9D9D9"/>
<rect x="389" y="146.1" width="87" height="70.7" fill="#EBEBEB"/>
<text class="s" x="432.5" y="140.1" font-size="9.9" fill="#1A1A1A" text-anchor="middle">Football</text>
<path d="M389 207H476M389 189.99H476M389 172.97H476M389 155.97H476M394.84 146.1V216.8M413.67 146.1V216.8M432.5 146.1V216.8M451.33 146.1V216.8M470.16 146.1V216.8" stroke="#F8F8F8" stroke-width="0.55" fill="none"/>
<path d="M389 215.5H476M389 198.49H476M389 181.48H476M389 164.47H476M389 147.46H476M404.25 146.1V216.8M423.08 146.1V216.8M441.92 146.1V216.8M460.75 146.1V216.8" stroke="#ffffff" stroke-width="1.05" fill="none"/>
<path d="M386 215.5H389M386 198.49H389M386 181.48H389M386 164.47H389M386 147.46H389M404.25 216.8V219.8M423.08 216.8V219.8M441.92 216.8V219.8M460.75 216.8V219.8" stroke="#333333" stroke-width="1.16" fill="none"/>
<g class="a" font-size="9.5" fill="#444444">
<g text-anchor="end">
<text x="383.6" y="219.2">15</text>
<text x="383.6" y="202.19">18</text>
<text x="383.6" y="185.18">21</text>
<text x="383.6" y="168.17">24</text>
<text x="383.6" y="151.16">27</text>
</g><g text-anchor="middle">
<text x="404.25" y="229.7">5</text>
<text x="423.08" y="229.7">10</text>
<text x="441.92" y="229.7">15</text>
<text x="460.75" y="229.7">20</text>
</g></g>
<g fill="none" stroke="#353535" stroke-width="1.15" stroke-linejoin="round"><polyline points="392.95,212.21 404.25,193.39 415.55,180.91 426.85,177.51 438.15,165.32 449.45,163.9 460.75,156.82 472.05,153.36"/><polyline points="392.95,212.66 404.25,198.26 415.55,193.39 426.85,186.58 438.15,184.88 449.45,179.21 460.75,167.53 472.05,162.77"/><polyline points="392.95,212.66 404.25,194.8 415.55,190.55 426.85,182.33 438.15,175.81 449.45,166.17 460.75,153.13 472.05,150.3"/><polyline points="392.95,212.66 404.25,203.59 415.55,194.52 426.85,187.15 438.15,184.31 449.45,184.88 460.75,181.48 472.05,179.21"/><polyline points="392.95,214.37 404.25,191.69 415.55,178.65 426.85,173.54 438.15,163.9 449.45,158.23 460.75,160.5 472.05,149.16"/></g>
<path d="M392.95 209.81L395.8 212.66L392.95 215.51L390.1 212.66Z" fill="#B47CC7"/><path d="M404.25 195.41L407.1 198.26L404.25 201.11L401.4 198.26Z" fill="#B47CC7"/><path d="M415.55 190.54L418.4 193.39L415.55 196.24L412.7 193.39Z" fill="#B47CC7"/><path d="M426.85 183.73L429.7 186.58L426.85 189.43L424 186.58Z" fill="#B47CC7"/><path d="M438.15 182.03L441 184.88L438.15 187.73L435.3 184.88Z" fill="#B47CC7"/><path d="M449.45 176.36L452.3 179.21L449.45 182.06L446.6 179.21Z" fill="#B47CC7"/><path d="M460.75 164.68L463.6 167.53L460.75 170.38L457.9 167.53Z" fill="#B47CC7"/><path d="M472.05 159.92L474.9 162.77L472.05 165.62L469.2 162.77Z" fill="#B47CC7"/>
<path d="M392.95 216.16L395.98 210.91L389.92 210.91Z" fill="#3CB54A"/><path d="M404.25 198.3L407.28 193.05L401.22 193.05Z" fill="#3CB54A"/><path d="M415.55 194.05L418.58 188.8L412.52 188.8Z" fill="#3CB54A"/><path d="M426.85 185.83L429.88 180.58L423.82 180.58Z" fill="#3CB54A"/><path d="M438.15 179.31L441.18 174.06L435.12 174.06Z" fill="#3CB54A"/><path d="M449.45 169.67L452.48 164.42L446.42 164.42Z" fill="#3CB54A"/><path d="M460.75 156.63L463.78 151.38L457.72 151.38Z" fill="#3CB54A"/><path d="M472.05 153.8L475.08 148.55L469.02 148.55Z" fill="#3CB54A"/>
<path d="M392.95 210.87L395.98 216.12L389.92 216.12Z" fill="#2B8FDC"/><path d="M404.25 188.19L407.28 193.44L401.22 193.44Z" fill="#2B8FDC"/><path d="M415.55 175.15L418.58 180.4L412.52 180.4Z" fill="#2B8FDC"/><path d="M426.85 170.04L429.88 175.29L423.82 175.29Z" fill="#2B8FDC"/><path d="M438.15 160.4L441.18 165.65L435.12 165.65Z" fill="#2B8FDC"/><path d="M449.45 154.73L452.48 159.98L446.42 159.98Z" fill="#2B8FDC"/><path d="M460.75 157L463.78 162.25L457.72 162.25Z" fill="#2B8FDC"/><path d="M472.05 145.66L475.08 150.91L469.02 150.91Z" fill="#2B8FDC"/>
<rect x="390.9" y="210.61" width="4.1" height="4.1" fill="#F2514F"/><rect x="402.2" y="201.54" width="4.1" height="4.1" fill="#F2514F"/><rect x="413.5" y="192.47" width="4.1" height="4.1" fill="#F2514F"/><rect x="424.8" y="185.1" width="4.1" height="4.1" fill="#F2514F"/><rect x="436.1" y="182.26" width="4.1" height="4.1" fill="#F2514F"/><rect x="447.4" y="182.83" width="4.1" height="4.1" fill="#F2514F"/><rect x="458.7" y="179.43" width="4.1" height="4.1" fill="#F2514F"/><rect x="470" y="177.16" width="4.1" height="4.1" fill="#F2514F"/>
<circle cx="392.95" cy="212.21" r="2.35" fill="#F8932E"/><circle cx="404.25" cy="193.39" r="2.35" fill="#F8932E"/><circle cx="415.55" cy="180.91" r="2.35" fill="#F8932E"/><circle cx="426.85" cy="177.51" r="2.35" fill="#F8932E"/><circle cx="438.15" cy="165.32" r="2.35" fill="#F8932E"/><circle cx="449.45" cy="163.9" r="2.35" fill="#F8932E"/><circle cx="460.75" cy="156.82" r="2.35" fill="#F8932E"/><circle cx="472.05" cy="153.36" r="2.35" fill="#F8932E"/>
</g>
<g>
<rect x="36.7" y="238.9" width="87" height="19.6" fill="#D9D9D9"/>
<rect x="36.7" y="258.5" width="87" height="70.7" fill="#EBEBEB"/>
<text class="s" x="80.2" y="252.5" font-size="9.9" fill="#1A1A1A" text-anchor="middle">Enron</text>
<path d="M36.7 319.74H123.7M36.7 296.06H123.7M36.7 272.39H123.7M49.44 258.5V329.2M78.74 258.5V329.2M108.03 258.5V329.2" stroke="#F8F8F8" stroke-width="0.55" fill="none"/>
<path d="M36.7 307.9H123.7M36.7 284.22H123.7M36.7 260.55H123.7M64.09 258.5V329.2M93.38 258.5V329.2M122.67 258.5V329.2" stroke="#ffffff" stroke-width="1.05" fill="none"/>
<path d="M33.7 307.9H36.7M33.7 284.22H36.7M33.7 260.55H36.7M64.09 329.2V332.2M93.38 329.2V332.2M122.67 329.2V332.2" stroke="#333333" stroke-width="1.16" fill="none"/>
<g class="a" font-size="9.5" fill="#444444">
<g text-anchor="end">
<text x="31.3" y="311.6">20</text>
<text x="31.3" y="287.92">25</text>
<text x="31.3" y="264.25">30</text>
</g><g text-anchor="middle">
<text x="64.09" y="342.1">10</text>
<text x="93.38" y="342.1">20</text>
<text x="122.67" y="342.1">30</text>
</g></g>
<g fill="none" stroke="#353535" stroke-width="1.15" stroke-linejoin="round"><polyline points="40.65,324 49.44,317.37 58.23,299.85 67.02,296.54 75.81,287.82 84.59,277.6 93.38,275.84 102.17,276.18 110.96,270.97 119.75,261.21"/><polyline points="40.65,324.95 49.44,318.32 58.23,314.06 67.02,314.06 75.81,306.48 84.59,308.14 93.38,305.3 102.17,303.16 110.96,299.85 119.75,298.43"/><polyline points="40.65,324.95 49.44,307.43 58.23,302.03 67.02,299.19 75.81,290 84.59,292.27 93.38,284.7 102.17,278.07 110.96,266.71 119.75,268.13"/><polyline points="40.65,324.47 49.44,317.84 58.23,314.06 67.02,310.08 75.81,307.43 84.59,307.43 93.38,306.48 102.17,306.48 110.96,303.16 119.75,302.03"/><polyline points="40.65,325.56 49.44,305.3 58.23,296.06 67.02,288.96 75.81,279.02 84.59,278.07 93.38,275.84 102.17,270.97 110.96,262.07 119.75,267.65"/></g>
<path d="M40.65 322.1L43.5 324.95L40.65 327.8L37.8 324.95Z" fill="#B47CC7"/><path d="M49.44 315.47L52.29 318.32L49.44 321.17L46.59 318.32Z" fill="#B47CC7"/><path d="M58.23 311.21L61.08 314.06L58.23 316.91L55.38 314.06Z" fill="#B47CC7"/><path d="M67.02 311.21L69.87 314.06L67.02 316.91L64.17 314.06Z" fill="#B47CC7"/><path d="M75.81 303.63L78.66 306.48L75.81 309.33L72.96 306.48Z" fill="#B47CC7"/><path d="M84.59 305.29L87.44 308.14L84.59 310.99L81.74 308.14Z" fill="#B47CC7"/><path d="M93.38 302.45L96.23 305.3L93.38 308.15L90.53 305.3Z" fill="#B47CC7"/><path d="M102.17 300.31L105.02 303.16L102.17 306.01L99.32 303.16Z" fill="#B47CC7"/><path d="M110.96 297L113.81 299.85L110.96 302.7L108.11 299.85Z" fill="#B47CC7"/><path d="M119.75 295.58L122.6 298.43L119.75 301.28L116.9 298.43Z" fill="#B47CC7"/>
<path d="M40.65 328.45L43.68 323.2L37.62 323.2Z" fill="#3CB54A"/><path d="M49.44 310.93L52.47 305.68L46.41 305.68Z" fill="#3CB54A"/><path d="M58.23 305.53L61.26 300.28L55.2 300.28Z" fill="#3CB54A"/><path d="M67.02 302.69L70.05 297.44L63.99 297.44Z" fill="#3CB54A"/><path d="M75.81 293.5L78.84 288.25L72.78 288.25Z" fill="#3CB54A"/><path d="M84.59 295.77L87.62 290.52L81.56 290.52Z" fill="#3CB54A"/><path d="M93.38 288.2L96.41 282.95L90.35 282.95Z" fill="#3CB54A"/><path d="M102.17 281.57L105.2 276.32L99.14 276.32Z" fill="#3CB54A"/><path d="M110.96 270.21L113.99 264.96L107.93 264.96Z" fill="#3CB54A"/><path d="M119.75 271.63L122.78 266.38L116.72 266.38Z" fill="#3CB54A"/>
<path d="M40.65 322.06L43.68 327.31L37.62 327.31Z" fill="#2B8FDC"/><path d="M49.44 301.8L52.47 307.05L46.41 307.05Z" fill="#2B8FDC"/><path d="M58.23 292.56L61.26 297.81L55.2 297.81Z" fill="#2B8FDC"/><path d="M67.02 285.46L70.05 290.71L63.99 290.71Z" fill="#2B8FDC"/><path d="M75.81 275.52L78.84 280.77L72.78 280.77Z" fill="#2B8FDC"/><path d="M84.59 274.57L87.62 279.82L81.56 279.82Z" fill="#2B8FDC"/><path d="M93.38 272.34L96.41 277.59L90.35 277.59Z" fill="#2B8FDC"/><path d="M102.17 267.47L105.2 272.72L99.14 272.72Z" fill="#2B8FDC"/><path d="M110.96 258.57L113.99 263.82L107.93 263.82Z" fill="#2B8FDC"/><path d="M119.75 264.15L122.78 269.4L116.72 269.4Z" fill="#2B8FDC"/>
<rect x="38.6" y="322.42" width="4.1" height="4.1" fill="#F2514F"/><rect x="47.39" y="315.79" width="4.1" height="4.1" fill="#F2514F"/><rect x="56.18" y="312.01" width="4.1" height="4.1" fill="#F2514F"/><rect x="64.97" y="308.03" width="4.1" height="4.1" fill="#F2514F"/><rect x="73.76" y="305.38" width="4.1" height="4.1" fill="#F2514F"/><rect x="82.54" y="305.38" width="4.1" height="4.1" fill="#F2514F"/><rect x="91.33" y="304.43" width="4.1" height="4.1" fill="#F2514F"/><rect x="100.12" y="304.43" width="4.1" height="4.1" fill="#F2514F"/><rect x="108.91" y="301.11" width="4.1" height="4.1" fill="#F2514F"/><rect x="117.7" y="299.98" width="4.1" height="4.1" fill="#F2514F"/>
<circle cx="40.65" cy="324" r="2.35" fill="#F8932E"/><circle cx="49.44" cy="317.37" r="2.35" fill="#F8932E"/><circle cx="58.23" cy="299.85" r="2.35" fill="#F8932E"/><circle cx="67.02" cy="296.54" r="2.35" fill="#F8932E"/><circle cx="75.81" cy="287.82" r="2.35" fill="#F8932E"/><circle cx="84.59" cy="277.6" r="2.35" fill="#F8932E"/><circle cx="93.38" cy="275.84" r="2.35" fill="#F8932E"/><circle cx="102.17" cy="276.18" r="2.35" fill="#F8932E"/><circle cx="110.96" cy="270.97" r="2.35" fill="#F8932E"/><circle cx="119.75" cy="261.21" r="2.35" fill="#F8932E"/>
</g>
<g>
<rect x="155" y="238.9" width="87" height="19.6" fill="#D9D9D9"/>
<rect x="155" y="258.5" width="87" height="70.7" fill="#EBEBEB"/>
<text class="s" x="198.5" y="252.5" font-size="9.9" fill="#1A1A1A" text-anchor="middle">NEUSNCP</text>
<path d="M155 319.18H242M155 300.35H242M155 281.51H242M155 262.68H242M166.37 258.5V329.2M191.09 258.5V329.2M215.8 258.5V329.2M240.52 258.5V329.2" stroke="#F8F8F8" stroke-width="0.55" fill="none"/>
<path d="M155 328.6H242M155 309.77H242M155 290.93H242M155 272.1H242M178.73 258.5V329.2M203.44 258.5V329.2M228.16 258.5V329.2" stroke="#ffffff" stroke-width="1.05" fill="none"/>
<path d="M152 328.6H155M152 309.77H155M152 290.93H155M152 272.1H155M178.73 329.2V332.2M203.44 329.2V332.2M228.16 329.2V332.2" stroke="#333333" stroke-width="1.16" fill="none"/>
<g class="a" font-size="9.5" fill="#444444">
<g text-anchor="end">
<text x="149.6" y="332.3">15</text>
<text x="149.6" y="313.47">20</text>
<text x="149.6" y="294.63">25</text>
<text x="149.6" y="275.8">30</text>
</g><g text-anchor="middle">
<text x="178.73" y="342.1">10</text>
<text x="203.44" y="342.1">20</text>
<text x="228.16" y="342.1">30</text>
</g></g>
<g fill="none" stroke="#353535" stroke-width="1.15" stroke-linejoin="round"><polyline points="158.95,323.82 168.84,311.8 178.73,305.62 188.61,297.18 198.5,289.99 208.39,283.77 218.27,282.27 228.16,267.57 238.05,261.55"/><polyline points="158.95,324.46 168.84,318.81 178.73,317.68 188.61,316.55 198.5,296.81 208.39,290.18 218.27,284.53 228.16,282.64 238.05,281.66"/><polyline points="158.95,324.08 168.84,322.8 178.73,303.59 188.61,299.22 198.5,288.29 208.39,275.49 218.27,268.14 228.16,269.23 238.05,261.55"/><polyline points="158.95,324.46 168.84,320.92 178.73,317.68 188.61,318.32 198.5,314.89 208.39,294.7 218.27,290.55 228.16,284.9 238.05,275.11"/><polyline points="158.95,325.59 168.84,305.88 178.73,304.49 188.61,301.85 198.5,287.92 208.39,276.99 218.27,270.21 228.16,265.31 238.05,261.92"/></g>
<path d="M158.95 321.61L161.8 324.46L158.95 327.31L156.1 324.46Z" fill="#B47CC7"/><path d="M168.84 315.96L171.69 318.81L168.84 321.66L165.99 318.81Z" fill="#B47CC7"/><path d="M178.73 314.83L181.58 317.68L178.73 320.53L175.88 317.68Z" fill="#B47CC7"/><path d="M188.61 313.7L191.46 316.55L188.61 319.4L185.76 316.55Z" fill="#B47CC7"/><path d="M198.5 293.96L201.35 296.81L198.5 299.66L195.65 296.81Z" fill="#B47CC7"/><path d="M208.39 287.33L211.24 290.18L208.39 293.03L205.54 290.18Z" fill="#B47CC7"/><path d="M218.27 281.68L221.12 284.53L218.27 287.38L215.42 284.53Z" fill="#B47CC7"/><path d="M228.16 279.79L231.01 282.64L228.16 285.49L225.31 282.64Z" fill="#B47CC7"/><path d="M238.05 278.81L240.9 281.66L238.05 284.51L235.2 281.66Z" fill="#B47CC7"/>
<path d="M158.95 327.58L161.98 322.33L155.92 322.33Z" fill="#3CB54A"/><path d="M168.84 326.3L171.87 321.05L165.81 321.05Z" fill="#3CB54A"/><path d="M178.73 307.09L181.76 301.84L175.7 301.84Z" fill="#3CB54A"/><path d="M188.61 302.72L191.64 297.47L185.58 297.47Z" fill="#3CB54A"/><path d="M198.5 291.79L201.53 286.54L195.47 286.54Z" fill="#3CB54A"/><path d="M208.39 278.99L211.42 273.74L205.36 273.74Z" fill="#3CB54A"/><path d="M218.27 271.64L221.3 266.39L215.24 266.39Z" fill="#3CB54A"/><path d="M228.16 272.73L231.19 267.48L225.13 267.48Z" fill="#3CB54A"/><path d="M238.05 265.05L241.08 259.8L235.02 259.8Z" fill="#3CB54A"/>
<path d="M158.95 322.09L161.98 327.34L155.92 327.34Z" fill="#2B8FDC"/><path d="M168.84 302.38L171.87 307.63L165.81 307.63Z" fill="#2B8FDC"/><path d="M178.73 300.99L181.76 306.24L175.7 306.24Z" fill="#2B8FDC"/><path d="M188.61 298.35L191.64 303.6L185.58 303.6Z" fill="#2B8FDC"/><path d="M198.5 284.42L201.53 289.67L195.47 289.67Z" fill="#2B8FDC"/><path d="M208.39 273.49L211.42 278.74L205.36 278.74Z" fill="#2B8FDC"/><path d="M218.27 266.71L221.3 271.96L215.24 271.96Z" fill="#2B8FDC"/><path d="M228.16 261.81L231.19 267.06L225.13 267.06Z" fill="#2B8FDC"/><path d="M238.05 258.42L241.08 263.67L235.02 263.67Z" fill="#2B8FDC"/>
<rect x="156.9" y="322.41" width="4.1" height="4.1" fill="#F2514F"/><rect x="166.79" y="318.87" width="4.1" height="4.1" fill="#F2514F"/><rect x="176.68" y="315.63" width="4.1" height="4.1" fill="#F2514F"/><rect x="186.56" y="316.27" width="4.1" height="4.1" fill="#F2514F"/><rect x="196.45" y="312.84" width="4.1" height="4.1" fill="#F2514F"/><rect x="206.34" y="292.65" width="4.1" height="4.1" fill="#F2514F"/><rect x="216.22" y="288.5" width="4.1" height="4.1" fill="#F2514F"/><rect x="226.11" y="282.85" width="4.1" height="4.1" fill="#F2514F"/><rect x="236" y="273.06" width="4.1" height="4.1" fill="#F2514F"/>
<circle cx="158.95" cy="323.82" r="2.35" fill="#F8932E"/><circle cx="168.84" cy="311.8" r="2.35" fill="#F8932E"/><circle cx="178.73" cy="305.62" r="2.35" fill="#F8932E"/><circle cx="188.61" cy="297.18" r="2.35" fill="#F8932E"/><circle cx="198.5" cy="289.99" r="2.35" fill="#F8932E"/><circle cx="208.39" cy="283.77" r="2.35" fill="#F8932E"/><circle cx="218.27" cy="282.27" r="2.35" fill="#F8932E"/><circle cx="228.16" cy="267.57" r="2.35" fill="#F8932E"/><circle cx="238.05" cy="261.55" r="2.35" fill="#F8932E"/>
</g>
<g>
<rect x="273" y="238.9" width="87" height="19.6" fill="#D9D9D9"/>
<rect x="273" y="258.5" width="87" height="70.7" fill="#EBEBEB"/>
<text class="s" x="316.5" y="252.5" font-size="9.9" fill="#1A1A1A" text-anchor="middle">Jazz</text>
<path d="M273 313.43H360M273 297.08H360M273 280.73H360M273 264.38H360M283.55 258.5V329.2M305.52 258.5V329.2M327.48 258.5V329.2M349.45 258.5V329.2" stroke="#F8F8F8" stroke-width="0.55" fill="none"/>
<path d="M273 321.6H360M273 305.25H360M273 288.9H360M273 272.55H360M294.53 258.5V329.2M316.5 258.5V329.2M338.47 258.5V329.2" stroke="#ffffff" stroke-width="1.05" fill="none"/>
<path d="M270 321.6H273M270 305.25H273M270 288.9H273M270 272.55H273M294.53 329.2V332.2M316.5 329.2V332.2M338.47 329.2V332.2" stroke="#333333" stroke-width="1.16" fill="none"/>
<g class="a" font-size="9.5" fill="#444444">
<g text-anchor="end">
<text x="267.6" y="325.3">35</text>
<text x="267.6" y="308.95">40</text>
<text x="267.6" y="292.6">45</text>
<text x="267.6" y="276.25">50</text>
</g><g text-anchor="middle">
<text x="294.53" y="342.1">10</text>
<text x="316.5" y="342.1">20</text>
<text x="338.47" y="342.1">30</text>
</g></g>
<g fill="none" stroke="#353535" stroke-width="1.15" stroke-linejoin="round"><polyline points="276.95,318.33 285.74,301 294.53,293.81 303.32,289.88 312.11,282.69 320.89,281.71 329.68,269.28 338.47,266.01 347.26,261.76 356.05,264.38"/><polyline points="276.95,325.85 285.74,321.27 294.53,319.97 303.32,317.35 312.11,308.19 320.89,312.77 329.68,306.23 338.47,298.38 347.26,297.73 356.05,301.65"/><polyline points="276.95,319.31 285.74,305.9 294.53,298.71 303.32,293.15 312.11,291.19 320.89,290.54 329.68,293.15 338.47,287.27 347.26,286.61 356.05,284.98"/><polyline points="276.95,324.87 285.74,322.03 294.53,321.27 303.32,317.68 312.11,315.06 320.89,316.7 329.68,311.14 338.47,309.17 347.26,309.17 356.05,311.79"/><polyline points="276.95,318.98 285.74,304.6 294.53,289.23 303.32,289.23 312.11,283.01 320.89,282.03 329.68,281.38 338.47,279.42 347.26,278.44 356.05,262.74"/></g>
<path d="M276.95 323L279.8 325.85L276.95 328.7L274.1 325.85Z" fill="#B47CC7"/><path d="M285.74 318.42L288.59 321.27L285.74 324.12L282.89 321.27Z" fill="#B47CC7"/><path d="M294.53 317.12L297.38 319.97L294.53 322.82L291.68 319.97Z" fill="#B47CC7"/><path d="M303.32 314.5L306.17 317.35L303.32 320.2L300.47 317.35Z" fill="#B47CC7"/><path d="M312.11 305.34L314.96 308.19L312.11 311.04L309.26 308.19Z" fill="#B47CC7"/><path d="M320.89 309.92L323.74 312.77L320.89 315.62L318.04 312.77Z" fill="#B47CC7"/><path d="M329.68 303.38L332.53 306.23L329.68 309.08L326.83 306.23Z" fill="#B47CC7"/><path d="M338.47 295.53L341.32 298.38L338.47 301.23L335.62 298.38Z" fill="#B47CC7"/><path d="M347.26 294.88L350.11 297.73L347.26 300.58L344.41 297.73Z" fill="#B47CC7"/><path d="M356.05 298.8L358.9 301.65L356.05 304.5L353.2 301.65Z" fill="#B47CC7"/>
<path d="M276.95 322.81L279.98 317.56L273.92 317.56Z" fill="#3CB54A"/><path d="M285.74 309.4L288.77 304.15L282.71 304.15Z" fill="#3CB54A"/><path d="M294.53 302.21L297.56 296.96L291.5 296.96Z" fill="#3CB54A"/><path d="M303.32 296.65L306.35 291.4L300.29 291.4Z" fill="#3CB54A"/><path d="M312.11 294.69L315.14 289.44L309.08 289.44Z" fill="#3CB54A"/><path d="M320.89 294.04L323.92 288.79L317.86 288.79Z" fill="#3CB54A"/><path d="M329.68 296.65L332.71 291.4L326.65 291.4Z" fill="#3CB54A"/><path d="M338.47 290.77L341.5 285.52L335.44 285.52Z" fill="#3CB54A"/><path d="M347.26 290.11L350.29 284.86L344.23 284.86Z" fill="#3CB54A"/><path d="M356.05 288.48L359.08 283.23L353.02 283.23Z" fill="#3CB54A"/>
<path d="M276.95 315.48L279.98 320.73L273.92 320.73Z" fill="#2B8FDC"/><path d="M285.74 301.1L288.77 306.35L282.71 306.35Z" fill="#2B8FDC"/><path d="M294.53 285.73L297.56 290.98L291.5 290.98Z" fill="#2B8FDC"/><path d="M303.32 285.73L306.35 290.98L300.29 290.98Z" fill="#2B8FDC"/><path d="M312.11 279.51L315.14 284.76L309.08 284.76Z" fill="#2B8FDC"/><path d="M320.89 278.53L323.92 283.78L317.86 283.78Z" fill="#2B8FDC"/><path d="M329.68 277.88L332.71 283.13L326.65 283.13Z" fill="#2B8FDC"/><path d="M338.47 275.92L341.5 281.17L335.44 281.17Z" fill="#2B8FDC"/><path d="M347.26 274.94L350.29 280.19L344.23 280.19Z" fill="#2B8FDC"/><path d="M356.05 259.24L359.08 264.49L353.02 264.49Z" fill="#2B8FDC"/>
<rect x="274.9" y="322.82" width="4.1" height="4.1" fill="#F2514F"/><rect x="283.69" y="319.98" width="4.1" height="4.1" fill="#F2514F"/><rect x="292.48" y="319.22" width="4.1" height="4.1" fill="#F2514F"/><rect x="301.27" y="315.63" width="4.1" height="4.1" fill="#F2514F"/><rect x="310.06" y="313.01" width="4.1" height="4.1" fill="#F2514F"/><rect x="318.84" y="314.65" width="4.1" height="4.1" fill="#F2514F"/><rect x="327.63" y="309.09" width="4.1" height="4.1" fill="#F2514F"/><rect x="336.42" y="307.12" width="4.1" height="4.1" fill="#F2514F"/><rect x="345.21" y="307.12" width="4.1" height="4.1" fill="#F2514F"/><rect x="354" y="309.74" width="4.1" height="4.1" fill="#F2514F"/>
<circle cx="276.95" cy="318.33" r="2.35" fill="#F8932E"/><circle cx="285.74" cy="301" r="2.35" fill="#F8932E"/><circle cx="294.53" cy="293.81" r="2.35" fill="#F8932E"/><circle cx="303.32" cy="289.88" r="2.35" fill="#F8932E"/><circle cx="312.11" cy="282.69" r="2.35" fill="#F8932E"/><circle cx="320.89" cy="281.71" r="2.35" fill="#F8932E"/><circle cx="329.68" cy="269.28" r="2.35" fill="#F8932E"/><circle cx="338.47" cy="266.01" r="2.35" fill="#F8932E"/><circle cx="347.26" cy="261.76" r="2.35" fill="#F8932E"/><circle cx="356.05" cy="264.38" r="2.35" fill="#F8932E"/>
</g>
<g>
<rect x="389" y="238.9" width="87" height="19.6" fill="#D9D9D9"/>
<rect x="389" y="258.5" width="87" height="70.7" fill="#EBEBEB"/>
<text class="s" x="432.5" y="252.5" font-size="9.9" fill="#1A1A1A" text-anchor="middle">USAir</text>
<path d="M389 313.7H476M389 289.9H476M389 266.1H476M400.49 258.5V329.2M425.6 258.5V329.2M450.7 258.5V329.2M475.81 258.5V329.2" stroke="#F8F8F8" stroke-width="0.55" fill="none"/>
<path d="M389 325.6H476M389 301.8H476M389 278H476M413.04 258.5V329.2M438.15 258.5V329.2M463.26 258.5V329.2" stroke="#ffffff" stroke-width="1.05" fill="none"/>
<path d="M386 325.6H389M386 301.8H389M386 278H389M413.04 329.2V332.2M438.15 329.2V332.2M463.26 329.2V332.2" stroke="#333333" stroke-width="1.16" fill="none"/>
<g class="a" font-size="9.5" fill="#444444">
<g text-anchor="end">
<text x="383.6" y="329.3">40</text>
<text x="383.6" y="305.5">50</text>
<text x="383.6" y="281.7">60</text>
</g><g text-anchor="middle">
<text x="413.04" y="342.1">20</text>
<text x="438.15" y="342.1">40</text>
<text x="463.26" y="342.1">60</text>
</g></g>
<g fill="none" stroke="#353535" stroke-width="1.15" stroke-linejoin="round"><polyline points="392.95,312.99 401.74,300.49 410.53,292.28 419.32,285.14 428.11,279.67 436.89,278.48 445.68,278.48 454.47,275.86 463.26,274.07 472.05,268.24"/><polyline points="392.95,324.89 401.74,315.6 410.53,311.32 419.32,307.04 428.11,311.8 436.89,309.65 445.68,300.49 454.47,295.85 463.26,295.85 472.05,293.23"/><polyline points="392.95,326.08 401.74,305.37 410.53,295.14 419.32,286.81 428.11,284.66 436.89,282.28 445.68,281.81 454.47,276.81 463.26,273.24 472.05,265.39"/><polyline points="392.95,323.93 401.74,316.32 410.53,316.79 419.32,313.94 428.11,312.99 436.89,309.65 445.68,305.73 454.47,308.46 463.26,306.8 472.05,297.75"/><polyline points="392.95,317.27 401.74,304.66 410.53,292.99 419.32,287.28 428.11,284.9 436.89,280.62 445.68,282.28 454.47,274.67 463.26,271.1 472.05,261.1"/></g>
<path d="M392.95 322.04L395.8 324.89L392.95 327.74L390.1 324.89Z" fill="#B47CC7"/><path d="M401.74 312.75L404.59 315.6L401.74 318.45L398.89 315.6Z" fill="#B47CC7"/><path d="M410.53 308.47L413.38 311.32L410.53 314.17L407.68 311.32Z" fill="#B47CC7"/><path d="M419.32 304.19L422.17 307.04L419.32 309.89L416.47 307.04Z" fill="#B47CC7"/><path d="M428.11 308.95L430.96 311.8L428.11 314.65L425.26 311.8Z" fill="#B47CC7"/><path d="M436.89 306.8L439.74 309.65L436.89 312.5L434.04 309.65Z" fill="#B47CC7"/><path d="M445.68 297.64L448.53 300.49L445.68 303.34L442.83 300.49Z" fill="#B47CC7"/><path d="M454.47 293L457.32 295.85L454.47 298.7L451.62 295.85Z" fill="#B47CC7"/><path d="M463.26 293L466.11 295.85L463.26 298.7L460.41 295.85Z" fill="#B47CC7"/><path d="M472.05 290.38L474.9 293.23L472.05 296.08L469.2 293.23Z" fill="#B47CC7"/>
<path d="M392.95 329.58L395.98 324.33L389.92 324.33Z" fill="#3CB54A"/><path d="M401.74 308.87L404.77 303.62L398.71 303.62Z" fill="#3CB54A"/><path d="M410.53 298.64L413.56 293.39L407.5 293.39Z" fill="#3CB54A"/><path d="M419.32 290.31L422.35 285.06L416.29 285.06Z" fill="#3CB54A"/><path d="M428.11 288.16L431.14 282.91L425.08 282.91Z" fill="#3CB54A"/><path d="M436.89 285.78L439.92 280.53L433.86 280.53Z" fill="#3CB54A"/><path d="M445.68 285.31L448.71 280.06L442.65 280.06Z" fill="#3CB54A"/><path d="M454.47 280.31L457.5 275.06L451.44 275.06Z" fill="#3CB54A"/><path d="M463.26 276.74L466.29 271.49L460.23 271.49Z" fill="#3CB54A"/><path d="M472.05 268.89L475.08 263.64L469.02 263.64Z" fill="#3CB54A"/>
<path d="M392.95 313.77L395.98 319.02L389.92 319.02Z" fill="#2B8FDC"/><path d="M401.74 301.16L404.77 306.41L398.71 306.41Z" fill="#2B8FDC"/><path d="M410.53 289.49L413.56 294.74L407.5 294.74Z" fill="#2B8FDC"/><path d="M419.32 283.78L422.35 289.03L416.29 289.03Z" fill="#2B8FDC"/><path d="M428.11 281.4L431.14 286.65L425.08 286.65Z" fill="#2B8FDC"/><path d="M436.89 277.12L439.92 282.37L433.86 282.37Z" fill="#2B8FDC"/><path d="M445.68 278.78L448.71 284.03L442.65 284.03Z" fill="#2B8FDC"/><path d="M454.47 271.17L457.5 276.42L451.44 276.42Z" fill="#2B8FDC"/><path d="M463.26 267.6L466.29 272.85L460.23 272.85Z" fill="#2B8FDC"/><path d="M472.05 257.6L475.08 262.85L469.02 262.85Z" fill="#2B8FDC"/>
<rect x="390.9" y="321.88" width="4.1" height="4.1" fill="#F2514F"/><rect x="399.69" y="314.27" width="4.1" height="4.1" fill="#F2514F"/><rect x="408.48" y="314.74" width="4.1" height="4.1" fill="#F2514F"/><rect x="417.27" y="311.89" width="4.1" height="4.1" fill="#F2514F"/><rect x="426.06" y="310.94" width="4.1" height="4.1" fill="#F2514F"/><rect x="434.84" y="307.6" width="4.1" height="4.1" fill="#F2514F"/><rect x="443.63" y="303.68" width="4.1" height="4.1" fill="#F2514F"/><rect x="452.42" y="306.41" width="4.1" height="4.1" fill="#F2514F"/><rect x="461.21" y="304.75" width="4.1" height="4.1" fill="#F2514F"/><rect x="470" y="295.7" width="4.1" height="4.1" fill="#F2514F"/>
<circle cx="392.95" cy="312.99" r="2.35" fill="#F8932E"/><circle cx="401.74" cy="300.49" r="2.35" fill="#F8932E"/><circle cx="410.53" cy="292.28" r="2.35" fill="#F8932E"/><circle cx="419.32" cy="285.14" r="2.35" fill="#F8932E"/><circle cx="428.11" cy="279.67" r="2.35" fill="#F8932E"/><circle cx="436.89" cy="278.48" r="2.35" fill="#F8932E"/><circle cx="445.68" cy="278.48" r="2.35" fill="#F8932E"/><circle cx="454.47" cy="275.86" r="2.35" fill="#F8932E"/><circle cx="463.26" cy="274.07" r="2.35" fill="#F8932E"/><circle cx="472.05" cy="268.24" r="2.35" fill="#F8932E"/>
</g>
<g>
<rect x="36.7" y="351.3" width="87" height="19.6" fill="#D9D9D9"/>
<rect x="36.7" y="370.9" width="87" height="70.7" fill="#EBEBEB"/>
<text class="s" x="80.2" y="364.9" font-size="9.9" fill="#1A1A1A" text-anchor="middle">NS</text>
<path d="M36.7 434.38H123.7M36.7 420.54H123.7M36.7 406.7H123.7M36.7 392.86H123.7M36.7 379.02H123.7M47.25 370.9V441.6M69.22 370.9V441.6M91.18 370.9V441.6M113.15 370.9V441.6" stroke="#F8F8F8" stroke-width="0.55" fill="none"/>
<path d="M36.7 441.3H123.7M36.7 427.46H123.7M36.7 413.62H123.7M36.7 399.78H123.7M36.7 385.94H123.7M36.7 372.1H123.7M58.23 370.9V441.6M80.2 370.9V441.6M102.17 370.9V441.6" stroke="#ffffff" stroke-width="1.05" fill="none"/>
<path d="M33.7 441.3H36.7M33.7 427.46H36.7M33.7 413.62H36.7M33.7 399.78H36.7M33.7 385.94H36.7M33.7 372.1H36.7M58.23 441.6V444.6M80.2 441.6V444.6M102.17 441.6V444.6" stroke="#333333" stroke-width="1.16" fill="none"/>
<g class="a" font-size="9.5" fill="#444444">
<g text-anchor="end">
<text x="31.3" y="445">10</text>
<text x="31.3" y="431.16">20</text>
<text x="31.3" y="417.32">30</text>
<text x="31.3" y="403.48">40</text>
<text x="31.3" y="389.64">50</text>
<text x="31.3" y="375.8">60</text>
</g><g text-anchor="middle">
<text x="58.23" y="454.5">20</text>
<text x="80.2" y="454.5">40</text>
<text x="102.17" y="454.5">60</text>
</g></g>
<g fill="none" stroke="#353535" stroke-width="1.15" stroke-linejoin="round"><polyline points="40.65,436.94 49.44,426.08 58.23,416.25 67.02,407.95 75.81,402.6 84.59,397.5 93.38,392.58 102.17,389.26 110.96,384.28 119.75,380.2"/><polyline points="40.65,437.56 49.44,423.17 58.23,417.22 67.02,411.82 75.81,406.7 84.59,401.44 93.38,399.5 102.17,395.21 110.96,392.58 119.75,390.23"/><polyline points="40.65,434.8 49.44,422.34 58.23,416.66 67.02,411.41 75.81,405.09 84.59,403.1 93.38,397.7 102.17,394.94 110.96,385.11 119.75,373.62"/><polyline points="40.65,437.98 49.44,424.55 58.23,418.33 67.02,413.62 75.81,408.71 84.59,406.2 93.38,402.6 102.17,402.6 110.96,397.7 119.75,394.94"/><polyline points="40.65,431.06 49.44,419.02 58.23,409.05 67.02,401.3 75.81,395.49 84.59,390.92 93.38,389.95 102.17,386.36 110.96,379.71 119.75,375.56"/></g>
<path d="M40.65 434.71L43.5 437.56L40.65 440.41L37.8 437.56Z" fill="#B47CC7"/><path d="M49.44 420.32L52.29 423.17L49.44 426.02L46.59 423.17Z" fill="#B47CC7"/><path d="M58.23 414.37L61.08 417.22L58.23 420.07L55.38 417.22Z" fill="#B47CC7"/><path d="M67.02 408.97L69.87 411.82L67.02 414.67L64.17 411.82Z" fill="#B47CC7"/><path d="M75.81 403.85L78.66 406.7L75.81 409.55L72.96 406.7Z" fill="#B47CC7"/><path d="M84.59 398.59L87.44 401.44L84.59 404.29L81.74 401.44Z" fill="#B47CC7"/><path d="M93.38 396.65L96.23 399.5L93.38 402.35L90.53 399.5Z" fill="#B47CC7"/><path d="M102.17 392.36L105.02 395.21L102.17 398.06L99.32 395.21Z" fill="#B47CC7"/><path d="M110.96 389.73L113.81 392.58L110.96 395.43L108.11 392.58Z" fill="#B47CC7"/><path d="M119.75 387.38L122.6 390.23L119.75 393.08L116.9 390.23Z" fill="#B47CC7"/>
<path d="M40.65 438.3L43.68 433.05L37.62 433.05Z" fill="#3CB54A"/><path d="M49.44 425.84L52.47 420.59L46.41 420.59Z" fill="#3CB54A"/><path d="M58.23 420.16L61.26 414.91L55.2 414.91Z" fill="#3CB54A"/><path d="M67.02 414.91L70.05 409.66L63.99 409.66Z" fill="#3CB54A"/><path d="M75.81 408.59L78.84 403.34L72.78 403.34Z" fill="#3CB54A"/><path d="M84.59 406.6L87.62 401.35L81.56 401.35Z" fill="#3CB54A"/><path d="M93.38 401.2L96.41 395.95L90.35 395.95Z" fill="#3CB54A"/><path d="M102.17 398.44L105.2 393.19L99.14 393.19Z" fill="#3CB54A"/><path d="M110.96 388.61L113.99 383.36L107.93 383.36Z" fill="#3CB54A"/><path d="M119.75 377.12L122.78 371.87L116.72 371.87Z" fill="#3CB54A"/>
<path d="M40.65 427.56L43.68 432.81L37.62 432.81Z" fill="#2B8FDC"/><path d="M49.44 415.52L52.47 420.77L46.41 420.77Z" fill="#2B8FDC"/><path d="M58.23 405.55L61.26 410.8L55.2 410.8Z" fill="#2B8FDC"/><path d="M67.02 397.8L70.05 403.05L63.99 403.05Z" fill="#2B8FDC"/><path d="M75.81 391.99L78.84 397.24L72.78 397.24Z" fill="#2B8FDC"/><path d="M84.59 387.42L87.62 392.67L81.56 392.67Z" fill="#2B8FDC"/><path d="M93.38 386.45L96.41 391.7L90.35 391.7Z" fill="#2B8FDC"/><path d="M102.17 382.86L105.2 388.11L99.14 388.11Z" fill="#2B8FDC"/><path d="M110.96 376.21L113.99 381.46L107.93 381.46Z" fill="#2B8FDC"/><path d="M119.75 372.06L122.78 377.31L116.72 377.31Z" fill="#2B8FDC"/>
<rect x="38.6" y="435.93" width="4.1" height="4.1" fill="#F2514F"/><rect x="47.39" y="422.5" width="4.1" height="4.1" fill="#F2514F"/><rect x="56.18" y="416.28" width="4.1" height="4.1" fill="#F2514F"/><rect x="64.97" y="411.57" width="4.1" height="4.1" fill="#F2514F"/><rect x="73.76" y="406.66" width="4.1" height="4.1" fill="#F2514F"/><rect x="82.54" y="404.15" width="4.1" height="4.1" fill="#F2514F"/><rect x="91.33" y="400.55" width="4.1" height="4.1" fill="#F2514F"/><rect x="100.12" y="400.55" width="4.1" height="4.1" fill="#F2514F"/><rect x="108.91" y="395.65" width="4.1" height="4.1" fill="#F2514F"/><rect x="117.7" y="392.89" width="4.1" height="4.1" fill="#F2514F"/>
<circle cx="40.65" cy="436.94" r="2.35" fill="#F8932E"/><circle cx="49.44" cy="426.08" r="2.35" fill="#F8932E"/><circle cx="58.23" cy="416.25" r="2.35" fill="#F8932E"/><circle cx="67.02" cy="407.95" r="2.35" fill="#F8932E"/><circle cx="75.81" cy="402.6" r="2.35" fill="#F8932E"/><circle cx="84.59" cy="397.5" r="2.35" fill="#F8932E"/><circle cx="93.38" cy="392.58" r="2.35" fill="#F8932E"/><circle cx="102.17" cy="389.26" r="2.35" fill="#F8932E"/><circle cx="110.96" cy="384.28" r="2.35" fill="#F8932E"/><circle cx="119.75" cy="380.2" r="2.35" fill="#F8932E"/>
</g>
<g>
<rect x="155" y="351.3" width="87" height="19.6" fill="#D9D9D9"/>
<rect x="155" y="370.9" width="87" height="70.7" fill="#EBEBEB"/>
<text class="s" x="198.5" y="364.9" font-size="9.9" fill="#1A1A1A" text-anchor="middle">DMLC</text>
<path d="M155 436.77H242M155 424.44H242M155 412.11H242M155 399.78H242M155 387.45H242M155 375.12H242M170.25 370.9V441.6M201.64 370.9V441.6M233.02 370.9V441.6" stroke="#F8F8F8" stroke-width="0.55" fill="none"/>
<path d="M155 430.6H242M155 418.27H242M155 405.94H242M155 393.61H242M155 381.28H242M185.95 370.9V441.6M217.33 370.9V441.6" stroke="#ffffff" stroke-width="1.05" fill="none"/>
<path d="M152 430.6H155M152 418.27H155M152 405.94H155M152 393.61H155M152 381.28H155M185.95 441.6V444.6M217.33 441.6V444.6" stroke="#333333" stroke-width="1.16" fill="none"/>
<g class="a" font-size="9.5" fill="#444444">
<g text-anchor="end">
<text x="149.6" y="434.3">60</text>
<text x="149.6" y="421.97">70</text>
<text x="149.6" y="409.64">80</text>
<text x="149.6" y="397.31">90</text>
<text x="149.6" y="384.98">100</text>
</g><g text-anchor="middle">
<text x="185.95" y="454.5">50</text>
<text x="217.33" y="454.5">100</text>
</g></g>
<g fill="none" stroke="#353535" stroke-width="1.15" stroke-linejoin="round"><polyline points="158.95,434.79 167.74,429.24 176.53,424.93 185.32,419.01 194.11,417.78 202.89,415.06 211.68,411.86 220.47,408.53 229.26,399.16 238.05,390.4"/><polyline points="158.95,437.63 167.74,435.41 176.53,431.09 185.32,429.24 194.11,421.6 202.89,415.06 211.68,417.28 220.47,411.86 229.26,408.53 238.05,404.21"/><polyline points="158.95,439.11 167.74,431.46 176.53,425.42 185.32,419.5 194.11,414.45 202.89,407.42 211.68,401.99 220.47,396.08 229.26,391.14 238.05,374.75"/><polyline points="158.95,436.27 167.74,434.79 176.53,431.46 185.32,426.04 194.11,423.82 202.89,427.15 211.68,421.6 220.47,417.9 229.26,411.86 238.05,406.43"/><polyline points="158.95,436.89 167.74,430.85 176.53,422.71 185.32,419.5 194.11,412.97 202.89,407.42 211.68,401.99 220.47,393.24 229.26,387.81 238.05,374.75"/></g>
<path d="M158.95 434.78L161.8 437.63L158.95 440.48L156.1 437.63Z" fill="#B47CC7"/><path d="M167.74 432.56L170.59 435.41L167.74 438.26L164.89 435.41Z" fill="#B47CC7"/><path d="M176.53 428.24L179.38 431.09L176.53 433.94L173.68 431.09Z" fill="#B47CC7"/><path d="M185.32 426.39L188.17 429.24L185.32 432.09L182.47 429.24Z" fill="#B47CC7"/><path d="M194.11 418.75L196.96 421.6L194.11 424.45L191.26 421.6Z" fill="#B47CC7"/><path d="M202.89 412.21L205.74 415.06L202.89 417.91L200.04 415.06Z" fill="#B47CC7"/><path d="M211.68 414.43L214.53 417.28L211.68 420.13L208.83 417.28Z" fill="#B47CC7"/><path d="M220.47 409.01L223.32 411.86L220.47 414.71L217.62 411.86Z" fill="#B47CC7"/><path d="M229.26 405.68L232.11 408.53L229.26 411.38L226.41 408.53Z" fill="#B47CC7"/><path d="M238.05 401.36L240.9 404.21L238.05 407.06L235.2 404.21Z" fill="#B47CC7"/>
<path d="M158.95 442.61L161.98 437.36L155.92 437.36Z" fill="#3CB54A"/><path d="M167.74 434.96L170.77 429.71L164.71 429.71Z" fill="#3CB54A"/><path d="M176.53 428.92L179.56 423.67L173.5 423.67Z" fill="#3CB54A"/><path d="M185.32 423L188.35 417.75L182.29 417.75Z" fill="#3CB54A"/><path d="M194.11 417.95L197.14 412.7L191.08 412.7Z" fill="#3CB54A"/><path d="M202.89 410.92L205.92 405.67L199.86 405.67Z" fill="#3CB54A"/><path d="M211.68 405.49L214.71 400.24L208.65 400.24Z" fill="#3CB54A"/><path d="M220.47 399.58L223.5 394.33L217.44 394.33Z" fill="#3CB54A"/><path d="M229.26 394.64L232.29 389.39L226.23 389.39Z" fill="#3CB54A"/><path d="M238.05 378.25L241.08 373L235.02 373Z" fill="#3CB54A"/>
<path d="M158.95 433.39L161.98 438.64L155.92 438.64Z" fill="#2B8FDC"/><path d="M167.74 427.35L170.77 432.6L164.71 432.6Z" fill="#2B8FDC"/><path d="M176.53 419.21L179.56 424.46L173.5 424.46Z" fill="#2B8FDC"/><path d="M185.32 416L188.35 421.25L182.29 421.25Z" fill="#2B8FDC"/><path d="M194.11 409.47L197.14 414.72L191.08 414.72Z" fill="#2B8FDC"/><path d="M202.89 403.92L205.92 409.17L199.86 409.17Z" fill="#2B8FDC"/><path d="M211.68 398.49L214.71 403.74L208.65 403.74Z" fill="#2B8FDC"/><path d="M220.47 389.74L223.5 394.99L217.44 394.99Z" fill="#2B8FDC"/><path d="M229.26 384.31L232.29 389.56L226.23 389.56Z" fill="#2B8FDC"/><path d="M238.05 371.25L241.08 376.5L235.02 376.5Z" fill="#2B8FDC"/>
<rect x="156.9" y="434.22" width="4.1" height="4.1" fill="#F2514F"/><rect x="165.69" y="432.74" width="4.1" height="4.1" fill="#F2514F"/><rect x="174.48" y="429.41" width="4.1" height="4.1" fill="#F2514F"/><rect x="183.27" y="423.99" width="4.1" height="4.1" fill="#F2514F"/><rect x="192.06" y="421.77" width="4.1" height="4.1" fill="#F2514F"/><rect x="200.84" y="425.1" width="4.1" height="4.1" fill="#F2514F"/><rect x="209.63" y="419.55" width="4.1" height="4.1" fill="#F2514F"/><rect x="218.42" y="415.85" width="4.1" height="4.1" fill="#F2514F"/><rect x="227.21" y="409.81" width="4.1" height="4.1" fill="#F2514F"/><rect x="236" y="404.38" width="4.1" height="4.1" fill="#F2514F"/>
<circle cx="158.95" cy="434.79" r="2.35" fill="#F8932E"/><circle cx="167.74" cy="429.24" r="2.35" fill="#F8932E"/><circle cx="176.53" cy="424.93" r="2.35" fill="#F8932E"/><circle cx="185.32" cy="419.01" r="2.35" fill="#F8932E"/><circle cx="194.11" cy="417.78" r="2.35" fill="#F8932E"/><circle cx="202.89" cy="415.06" r="2.35" fill="#F8932E"/><circle cx="211.68" cy="411.86" r="2.35" fill="#F8932E"/><circle cx="220.47" cy="408.53" r="2.35" fill="#F8932E"/><circle cx="229.26" cy="399.16" r="2.35" fill="#F8932E"/><circle cx="238.05" cy="390.4" r="2.35" fill="#F8932E"/>
</g>
<g>
<rect x="273" y="351.3" width="87" height="19.6" fill="#D9D9D9"/>
<rect x="273" y="370.9" width="87" height="70.7" fill="#EBEBEB"/>
<text class="s" x="316.5" y="364.9" font-size="9.9" fill="#1A1A1A" text-anchor="middle">Game of Thrones</text>
<path d="M273 439.56H360M273 426.84H360M273 414.13H360M273 401.43H360M273 388.71H360M273 376H360M283.55 370.9V441.6M305.52 370.9V441.6M327.48 370.9V441.6M349.45 370.9V441.6" stroke="#F8F8F8" stroke-width="0.55" fill="none"/>
<path d="M273 433.2H360M273 420.49H360M273 407.78H360M273 395.07H360M273 382.36H360M294.53 370.9V441.6M316.5 370.9V441.6M338.47 370.9V441.6" stroke="#ffffff" stroke-width="1.05" fill="none"/>
<path d="M270 433.2H273M270 420.49H273M270 407.78H273M270 395.07H273M270 382.36H273M294.53 441.6V444.6M316.5 441.6V444.6M338.47 441.6V444.6" stroke="#333333" stroke-width="1.16" fill="none"/>
<g class="a" font-size="9.5" fill="#444444">
<g text-anchor="end">
<text x="267.6" y="436.9">80</text>
<text x="267.6" y="424.19">90</text>
<text x="267.6" y="411.48">100</text>
<text x="267.6" y="398.77">110</text>
<text x="267.6" y="386.06">120</text>
</g><g text-anchor="middle">
<text x="294.53" y="454.5">40</text>
<text x="316.5" y="454.5">80</text>
<text x="338.47" y="454.5">120</text>
</g></g>
<g fill="none" stroke="#353535" stroke-width="1.15" stroke-linejoin="round"><polyline points="276.95,434.73 285.74,423.16 294.53,412.86 303.32,408.54 312.11,401.3 320.89,398.76 329.68,388.46 338.47,388.91 347.26,384.14 356.05,377.28"/><polyline points="276.95,436.25 285.74,428.24 294.53,419.47 303.32,416.8 312.11,410.7 320.89,409.69 329.68,404.86 338.47,402.7 347.26,405.75 356.05,405.87"/><polyline points="276.95,435.36 285.74,423.79 294.53,415.79 303.32,406.38 312.11,404.22 320.89,399.77 329.68,393.93 338.47,388.91 347.26,383.5 356.05,373.59"/><polyline points="276.95,438.41 285.74,431.04 294.53,421.63 303.32,420.11 312.11,417.95 320.89,409.69 329.68,410.7 338.47,407.4 347.26,405.24 356.05,405.87"/><polyline points="276.95,433.58 285.74,421 294.53,411.72 303.32,407.4 312.11,399.14 320.89,399.14 329.68,392.15 338.47,388.91 347.26,383.5 356.05,375.12"/></g>
<path d="M276.95 433.4L279.8 436.25L276.95 439.1L274.1 436.25Z" fill="#B47CC7"/><path d="M285.74 425.39L288.59 428.24L285.74 431.09L282.89 428.24Z" fill="#B47CC7"/><path d="M294.53 416.62L297.38 419.47L294.53 422.32L291.68 419.47Z" fill="#B47CC7"/><path d="M303.32 413.95L306.17 416.8L303.32 419.65L300.47 416.8Z" fill="#B47CC7"/><path d="M312.11 407.85L314.96 410.7L312.11 413.55L309.26 410.7Z" fill="#B47CC7"/><path d="M320.89 406.84L323.74 409.69L320.89 412.54L318.04 409.69Z" fill="#B47CC7"/><path d="M329.68 402.01L332.53 404.86L329.68 407.71L326.83 404.86Z" fill="#B47CC7"/><path d="M338.47 399.85L341.32 402.7L338.47 405.55L335.62 402.7Z" fill="#B47CC7"/><path d="M347.26 402.9L350.11 405.75L347.26 408.6L344.41 405.75Z" fill="#B47CC7"/><path d="M356.05 403.02L358.9 405.87L356.05 408.72L353.2 405.87Z" fill="#B47CC7"/>
<path d="M276.95 438.86L279.98 433.61L273.92 433.61Z" fill="#3CB54A"/><path d="M285.74 427.29L288.77 422.04L282.71 422.04Z" fill="#3CB54A"/><path d="M294.53 419.29L297.56 414.04L291.5 414.04Z" fill="#3CB54A"/><path d="M303.32 409.88L306.35 404.63L300.29 404.63Z" fill="#3CB54A"/><path d="M312.11 407.72L315.14 402.47L309.08 402.47Z" fill="#3CB54A"/><path d="M320.89 403.27L323.92 398.02L317.86 398.02Z" fill="#3CB54A"/><path d="M329.68 397.43L332.71 392.18L326.65 392.18Z" fill="#3CB54A"/><path d="M338.47 392.41L341.5 387.16L335.44 387.16Z" fill="#3CB54A"/><path d="M347.26 387L350.29 381.75L344.23 381.75Z" fill="#3CB54A"/><path d="M356.05 377.09L359.08 371.84L353.02 371.84Z" fill="#3CB54A"/>
<path d="M276.95 430.08L279.98 435.33L273.92 435.33Z" fill="#2B8FDC"/><path d="M285.74 417.5L288.77 422.75L282.71 422.75Z" fill="#2B8FDC"/><path d="M294.53 408.22L297.56 413.47L291.5 413.47Z" fill="#2B8FDC"/><path d="M303.32 403.9L306.35 409.15L300.29 409.15Z" fill="#2B8FDC"/><path d="M312.11 395.64L315.14 400.89L309.08 400.89Z" fill="#2B8FDC"/><path d="M320.89 395.64L323.92 400.89L317.86 400.89Z" fill="#2B8FDC"/><path d="M329.68 388.65L332.71 393.9L326.65 393.9Z" fill="#2B8FDC"/><path d="M338.47 385.41L341.5 390.66L335.44 390.66Z" fill="#2B8FDC"/><path d="M347.26 380L350.29 385.25L344.23 385.25Z" fill="#2B8FDC"/><path d="M356.05 371.62L359.08 376.87L353.02 376.87Z" fill="#2B8FDC"/>
<rect x="274.9" y="436.36" width="4.1" height="4.1" fill="#F2514F"/><rect x="283.69" y="428.99" width="4.1" height="4.1" fill="#F2514F"/><rect x="292.48" y="419.58" width="4.1" height="4.1" fill="#F2514F"/><rect x="301.27" y="418.06" width="4.1" height="4.1" fill="#F2514F"/><rect x="310.06" y="415.9" width="4.1" height="4.1" fill="#F2514F"/><rect x="318.84" y="407.64" width="4.1" height="4.1" fill="#F2514F"/><rect x="327.63" y="408.65" width="4.1" height="4.1" fill="#F2514F"/><rect x="336.42" y="405.35" width="4.1" height="4.1" fill="#F2514F"/><rect x="345.21" y="403.19" width="4.1" height="4.1" fill="#F2514F"/><rect x="354" y="403.82" width="4.1" height="4.1" fill="#F2514F"/>
<circle cx="276.95" cy="434.73" r="2.35" fill="#F8932E"/><circle cx="285.74" cy="423.16" r="2.35" fill="#F8932E"/><circle cx="294.53" cy="412.86" r="2.35" fill="#F8932E"/><circle cx="303.32" cy="408.54" r="2.35" fill="#F8932E"/><circle cx="312.11" cy="401.3" r="2.35" fill="#F8932E"/><circle cx="320.89" cy="398.76" r="2.35" fill="#F8932E"/><circle cx="329.68" cy="388.46" r="2.35" fill="#F8932E"/><circle cx="338.47" cy="388.91" r="2.35" fill="#F8932E"/><circle cx="347.26" cy="384.14" r="2.35" fill="#F8932E"/><circle cx="356.05" cy="377.28" r="2.35" fill="#F8932E"/>
</g>
<g>
<rect x="389" y="351.3" width="87" height="19.6" fill="#D9D9D9"/>
<rect x="389" y="370.9" width="87" height="70.7" fill="#EBEBEB"/>
<text class="s" x="432.5" y="364.9" font-size="9.9" fill="#1A1A1A" text-anchor="middle">Power</text>
<path d="M389 432.78H476M389 412.62H476M389 392.44H476M389 372.27H476M399.55 370.9V441.6M421.52 370.9V441.6M443.48 370.9V441.6M465.45 370.9V441.6" stroke="#F8F8F8" stroke-width="0.55" fill="none"/>
<path d="M389 422.7H476M389 402.53H476M389 382.36H476M410.53 370.9V441.6M432.5 370.9V441.6M454.47 370.9V441.6" stroke="#ffffff" stroke-width="1.05" fill="none"/>
<path d="M386 422.7H389M386 402.53H389M386 382.36H389M410.53 441.6V444.6M432.5 441.6V444.6M454.47 441.6V444.6" stroke="#333333" stroke-width="1.16" fill="none"/>
<g class="a" font-size="9.5" fill="#444444">
<g text-anchor="end">
<text x="383.6" y="426.4">100</text>
<text x="383.6" y="406.23">200</text>
<text x="383.6" y="386.06">300</text>
</g><g text-anchor="middle">
<text x="410.53" y="454.5">250</text>
<text x="432.5" y="454.5">500</text>
<text x="454.47" y="454.5">750</text>
</g></g>
<g fill="none" stroke="#353535" stroke-width="1.15" stroke-linejoin="round"><polyline points="392.95,438.43 401.74,432.08 410.53,427.06 419.32,421.61 428.11,415.5 436.89,411.4 445.68,406.36 454.47,400.92 463.26,397.69 472.05,392.16"/><polyline points="392.95,435.81 401.74,427.34 410.53,419.88 419.32,412.41 428.11,406.56 436.89,401.32 445.68,394.26 454.47,387.81 463.26,382.16 472.05,377.12"/><polyline points="392.95,435.81 401.74,427.06 410.53,419.47 419.32,412.21 428.11,406.36 436.89,400.92 445.68,393.9 454.47,387.4 463.26,381.75 472.05,374.7"/><polyline points="392.95,435.41 401.74,428.59 410.53,421.69 419.32,416.16 428.11,409.59 436.89,404.14 445.68,400.51 454.47,396.08 463.26,392.24 472.05,386.7"/><polyline points="392.95,433.19 401.74,423.79 410.53,416.65 419.32,407.43 428.11,399.36 436.89,395.47 445.68,388.87 454.47,381.75 463.26,375.14 472.05,373.18"/></g>
<path d="M392.95 432.96L395.8 435.81L392.95 438.66L390.1 435.81Z" fill="#B47CC7"/><path d="M401.74 424.49L404.59 427.34L401.74 430.19L398.89 427.34Z" fill="#B47CC7"/><path d="M410.53 417.03L413.38 419.88L410.53 422.73L407.68 419.88Z" fill="#B47CC7"/><path d="M419.32 409.56L422.17 412.41L419.32 415.26L416.47 412.41Z" fill="#B47CC7"/><path d="M428.11 403.71L430.96 406.56L428.11 409.41L425.26 406.56Z" fill="#B47CC7"/><path d="M436.89 398.47L439.74 401.32L436.89 404.17L434.04 401.32Z" fill="#B47CC7"/><path d="M445.68 391.41L448.53 394.26L445.68 397.11L442.83 394.26Z" fill="#B47CC7"/><path d="M454.47 384.96L457.32 387.81L454.47 390.66L451.62 387.81Z" fill="#B47CC7"/><path d="M463.26 379.31L466.11 382.16L463.26 385.01L460.41 382.16Z" fill="#B47CC7"/><path d="M472.05 374.27L474.9 377.12L472.05 379.97L469.2 377.12Z" fill="#B47CC7"/>
<path d="M392.95 439.31L395.98 434.06L389.92 434.06Z" fill="#3CB54A"/><path d="M401.74 430.56L404.77 425.31L398.71 425.31Z" fill="#3CB54A"/><path d="M410.53 422.97L413.56 417.72L407.5 417.72Z" fill="#3CB54A"/><path d="M419.32 415.71L422.35 410.46L416.29 410.46Z" fill="#3CB54A"/><path d="M428.11 409.86L431.14 404.61L425.08 404.61Z" fill="#3CB54A"/><path d="M436.89 404.42L439.92 399.17L433.86 399.17Z" fill="#3CB54A"/><path d="M445.68 397.4L448.71 392.15L442.65 392.15Z" fill="#3CB54A"/><path d="M454.47 390.9L457.5 385.65L451.44 385.65Z" fill="#3CB54A"/><path d="M463.26 385.25L466.29 380L460.23 380Z" fill="#3CB54A"/><path d="M472.05 378.2L475.08 372.95L469.02 372.95Z" fill="#3CB54A"/>
<path d="M392.95 429.69L395.98 434.94L389.92 434.94Z" fill="#2B8FDC"/><path d="M401.74 420.29L404.77 425.54L398.71 425.54Z" fill="#2B8FDC"/><path d="M410.53 413.15L413.56 418.4L407.5 418.4Z" fill="#2B8FDC"/><path d="M419.32 403.93L422.35 409.18L416.29 409.18Z" fill="#2B8FDC"/><path d="M428.11 395.86L431.14 401.11L425.08 401.11Z" fill="#2B8FDC"/><path d="M436.89 391.97L439.92 397.22L433.86 397.22Z" fill="#2B8FDC"/><path d="M445.68 385.37L448.71 390.62L442.65 390.62Z" fill="#2B8FDC"/><path d="M454.47 378.25L457.5 383.5L451.44 383.5Z" fill="#2B8FDC"/><path d="M463.26 371.64L466.29 376.89L460.23 376.89Z" fill="#2B8FDC"/><path d="M472.05 369.68L475.08 374.93L469.02 374.93Z" fill="#2B8FDC"/>
<rect x="390.9" y="433.36" width="4.1" height="4.1" fill="#F2514F"/><rect x="399.69" y="426.54" width="4.1" height="4.1" fill="#F2514F"/><rect x="408.48" y="419.64" width="4.1" height="4.1" fill="#F2514F"/><rect x="417.27" y="414.11" width="4.1" height="4.1" fill="#F2514F"/><rect x="426.06" y="407.54" width="4.1" height="4.1" fill="#F2514F"/><rect x="434.84" y="402.09" width="4.1" height="4.1" fill="#F2514F"/><rect x="443.63" y="398.46" width="4.1" height="4.1" fill="#F2514F"/><rect x="452.42" y="394.03" width="4.1" height="4.1" fill="#F2514F"/><rect x="461.21" y="390.19" width="4.1" height="4.1" fill="#F2514F"/><rect x="470" y="384.65" width="4.1" height="4.1" fill="#F2514F"/>
<circle cx="392.95" cy="438.43" r="2.35" fill="#F8932E"/><circle cx="401.74" cy="432.08" r="2.35" fill="#F8932E"/><circle cx="410.53" cy="427.06" r="2.35" fill="#F8932E"/><circle cx="419.32" cy="421.61" r="2.35" fill="#F8932E"/><circle cx="428.11" cy="415.5" r="2.35" fill="#F8932E"/><circle cx="436.89" cy="411.4" r="2.35" fill="#F8932E"/><circle cx="445.68" cy="406.36" r="2.35" fill="#F8932E"/><circle cx="454.47" cy="400.92" r="2.35" fill="#F8932E"/><circle cx="463.26" cy="397.69" r="2.35" fill="#F8932E"/><circle cx="472.05" cy="392.16" r="2.35" fill="#F8932E"/>
</g>
<text class="k" x="256.6" y="468.6" font-size="12" fill="#000" text-anchor="middle">k</text>
<text class="k" transform="translate(14.2 237.6) rotate(-90)" font-size="12" fill="#000" text-anchor="middle">Recovered nodes</text>
<text class="k" x="494.3" y="191.2" font-size="12" fill="#000">Methods</text>
<rect x="494.4" y="199.0" width="18.3" height="94.8" fill="#F2F2F2"/>
<circle cx="503.55" cy="208.48" r="2.35" fill="#F8932E"/>
<text class="k" x="519.3" y="211.93" font-size="9.5" fill="#000">BC</text>
<path d="M503.55 224.59L506.4 227.44L503.55 230.29L500.7 227.44Z" fill="#B47CC7"/>
<text class="k" x="519.3" y="230.89" font-size="9.5" fill="#000">DC</text>
<path d="M503.55 249.9L506.58 244.65L500.52 244.65Z" fill="#3CB54A"/>
<text class="k" x="519.3" y="249.85" font-size="9.5" fill="#000">INF</text>
<rect x="501.5" y="263.31" width="4.1" height="4.1" fill="#F2514F"/>
<text class="k" x="519.3" y="268.81" font-size="9.5" fill="#000">LGR</text>
<path d="M503.55 280.82L506.58 286.07L500.52 286.07Z" fill="#2B8FDC"/>
<text class="k" x="519.3" y="287.77" font-size="9.5" fill="#000">MINE</text>
</svg>
</body></html>
